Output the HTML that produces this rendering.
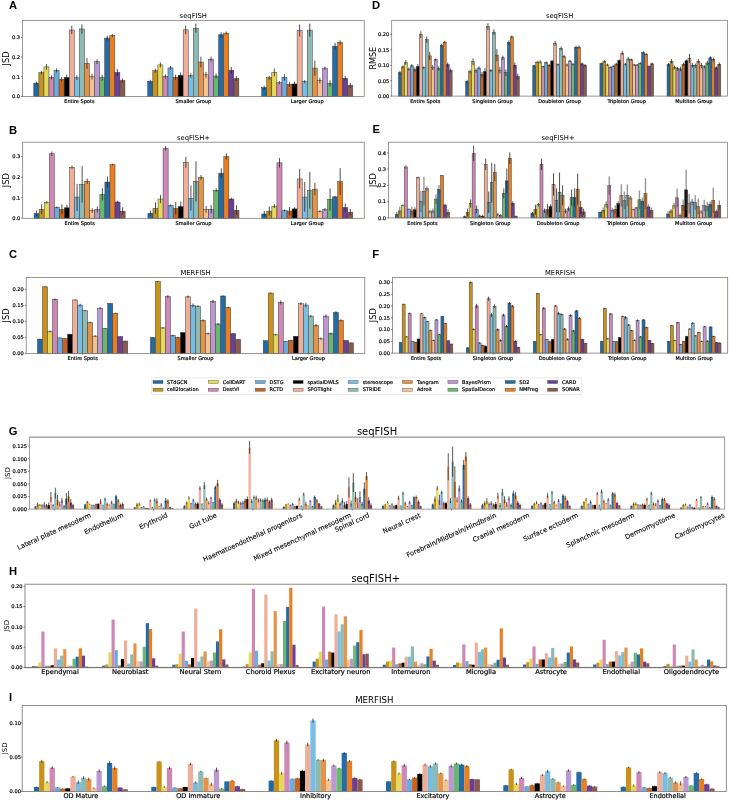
<!DOCTYPE html>
<html><head><meta charset="utf-8"><title>Figure</title>
<style>
html,body{margin:0;padding:0;background:#fff;}
body{width:729px;height:802px;overflow:hidden;}
svg{display:block;font-family:"DejaVu Sans","Liberation Sans",sans-serif;}
svg text{fill:#000;}
svg text.b{stroke:#000;stroke-width:0.18px;}
svg text.c{stroke:#000;stroke-width:0.1px;}
svg rect, svg path{shape-rendering:auto;}
</style></head><body>
<svg width="729" height="802" viewBox="0 0 729 802">
<rect x="0" y="0" width="729" height="802" fill="#ffffff" stroke="none"/>
<g>
<rect x="33.79" y="83.15" width="5.06" height="13.35" fill="#1f6aa5" stroke="#3c3c3c" stroke-width="0.5"/>
<rect x="38.86" y="72.52" width="5.06" height="23.98" fill="#c8921b" stroke="#3c3c3c" stroke-width="0.5"/>
<rect x="43.92" y="66.88" width="5.06" height="29.62" fill="#e4d95b" stroke="#3c3c3c" stroke-width="0.5"/>
<rect x="48.98" y="77.42" width="5.06" height="19.08" fill="#cf87b5" stroke="#3c3c3c" stroke-width="0.5"/>
<rect x="54.05" y="70.49" width="5.06" height="26.01" fill="#69addf" stroke="#3c3c3c" stroke-width="0.5"/>
<rect x="59.11" y="79.2" width="5.06" height="17.3" fill="#c9641e" stroke="#3c3c3c" stroke-width="0.5"/>
<rect x="64.18" y="77.42" width="5.06" height="19.08" fill="#000000" stroke="#3c3c3c" stroke-width="0.5"/>
<rect x="69.24" y="30.02" width="5.06" height="66.48" fill="#efae97" stroke="#3c3c3c" stroke-width="0.5"/>
<rect x="74.3" y="77.74" width="5.06" height="18.76" fill="#78bde3" stroke="#3c3c3c" stroke-width="0.5"/>
<rect x="79.37" y="28.95" width="5.06" height="67.55" fill="#8dbab3" stroke="#3c3c3c" stroke-width="0.5"/>
<rect x="84.43" y="63.4" width="5.06" height="33.1" fill="#e6934a" stroke="#3c3c3c" stroke-width="0.5"/>
<rect x="89.49" y="76.61" width="5.06" height="19.89" fill="#f4c391" stroke="#3c3c3c" stroke-width="0.5"/>
<rect x="94.56" y="61.62" width="5.06" height="34.88" fill="#bb98d2" stroke="#3c3c3c" stroke-width="0.5"/>
<rect x="99.62" y="77.74" width="5.06" height="18.76" fill="#6ab76f" stroke="#3c3c3c" stroke-width="0.5"/>
<rect x="104.69" y="38.1" width="5.06" height="58.4" fill="#256ca6" stroke="#3c3c3c" stroke-width="0.5"/>
<rect x="109.75" y="35.67" width="5.06" height="60.83" fill="#e87f22" stroke="#3c3c3c" stroke-width="0.5"/>
<rect x="114.81" y="72.41" width="5.06" height="24.09" fill="#6a3f98" stroke="#3c3c3c" stroke-width="0.5"/>
<rect x="119.88" y="80.5" width="5.06" height="16" fill="#8a5a4d" stroke="#3c3c3c" stroke-width="0.5"/>
<path d="M36.33 84.73V81.57M41.39 74.3V70.75M46.45 69.84V63.91M51.52 79.4V75.45M56.58 72.46V68.51M61.64 81.37V77.03M66.71 80.19V74.66M71.77 34.17V25.87M76.83 80.11V75.37M81.9 33.7V24.21M86.96 68.93V57.87M92.03 79.48V73.75M97.09 63.99V59.25M102.15 80.7V74.78M107.22 40.57V35.63M112.28 37.25V34.09M117.34 75.76V69.05M122.41 82.67V78.33" stroke="#222" stroke-width="0.8" fill="none" opacity="1"/>
<rect x="147.73" y="81.31" width="5.06" height="15.19" fill="#1f6aa5" stroke="#3c3c3c" stroke-width="0.5"/>
<rect x="152.79" y="70.63" width="5.06" height="25.87" fill="#c8921b" stroke="#3c3c3c" stroke-width="0.5"/>
<rect x="157.85" y="64.9" width="5.06" height="31.6" fill="#e4d95b" stroke="#3c3c3c" stroke-width="0.5"/>
<rect x="162.92" y="76.36" width="5.06" height="20.14" fill="#cf87b5" stroke="#3c3c3c" stroke-width="0.5"/>
<rect x="167.98" y="67.86" width="5.06" height="28.64" fill="#69addf" stroke="#3c3c3c" stroke-width="0.5"/>
<rect x="173.05" y="77.2" width="5.06" height="19.3" fill="#c9641e" stroke="#3c3c3c" stroke-width="0.5"/>
<rect x="178.11" y="75.21" width="5.06" height="21.29" fill="#000000" stroke="#3c3c3c" stroke-width="0.5"/>
<rect x="183.17" y="29.84" width="5.06" height="66.66" fill="#efae97" stroke="#3c3c3c" stroke-width="0.5"/>
<rect x="188.24" y="75.56" width="5.06" height="20.93" fill="#78bde3" stroke="#3c3c3c" stroke-width="0.5"/>
<rect x="193.3" y="28.17" width="5.06" height="68.33" fill="#8dbab3" stroke="#3c3c3c" stroke-width="0.5"/>
<rect x="198.36" y="62.02" width="5.06" height="34.48" fill="#e6934a" stroke="#3c3c3c" stroke-width="0.5"/>
<rect x="203.43" y="74.78" width="5.06" height="21.73" fill="#f4c391" stroke="#3c3c3c" stroke-width="0.5"/>
<rect x="208.49" y="59.17" width="5.06" height="37.33" fill="#bb98d2" stroke="#3c3c3c" stroke-width="0.5"/>
<rect x="213.55" y="76.04" width="5.06" height="20.46" fill="#6ab76f" stroke="#3c3c3c" stroke-width="0.5"/>
<rect x="218.62" y="34.8" width="5.06" height="61.7" fill="#256ca6" stroke="#3c3c3c" stroke-width="0.5"/>
<rect x="223.68" y="33.14" width="5.06" height="63.36" fill="#e87f22" stroke="#3c3c3c" stroke-width="0.5"/>
<rect x="228.75" y="70.23" width="5.06" height="26.27" fill="#6a3f98" stroke="#3c3c3c" stroke-width="0.5"/>
<rect x="233.81" y="78.53" width="5.06" height="17.97" fill="#8a5a4d" stroke="#3c3c3c" stroke-width="0.5"/>
<path d="M150.26 82.89V79.73M155.32 72.6V68.65M160.39 67.37V62.43M165.45 78.33V74.38M170.51 69.64V66.09M175.58 79.67V74.74M180.64 77.97V72.44M185.7 34.19V25.5M190.77 77.74V73.39M195.83 32.71V23.62M200.9 67.35V56.68M205.96 77.64V71.91M211.02 61.74V56.6M216.09 78.61V73.47M221.15 37.27V32.33M226.21 34.72V31.56M231.28 73.59V66.88M236.34 81V76.06" stroke="#222" stroke-width="0.8" fill="none" opacity="1"/>
<rect x="261.66" y="87.61" width="5.06" height="8.89" fill="#1f6aa5" stroke="#3c3c3c" stroke-width="0.5"/>
<rect x="266.72" y="77.74" width="5.06" height="18.76" fill="#c8921b" stroke="#3c3c3c" stroke-width="0.5"/>
<rect x="271.79" y="72.41" width="5.06" height="24.09" fill="#e4d95b" stroke="#3c3c3c" stroke-width="0.5"/>
<rect x="276.85" y="82.67" width="5.06" height="13.83" fill="#cf87b5" stroke="#3c3c3c" stroke-width="0.5"/>
<rect x="281.91" y="77.34" width="5.06" height="19.16" fill="#69addf" stroke="#3c3c3c" stroke-width="0.5"/>
<rect x="286.98" y="84.25" width="5.06" height="12.24" fill="#c9641e" stroke="#3c3c3c" stroke-width="0.5"/>
<rect x="292.04" y="83.96" width="5.06" height="12.54" fill="#000000" stroke="#3c3c3c" stroke-width="0.5"/>
<rect x="297.11" y="30.53" width="5.06" height="65.97" fill="#efae97" stroke="#3c3c3c" stroke-width="0.5"/>
<rect x="302.17" y="81.69" width="5.06" height="14.81" fill="#78bde3" stroke="#3c3c3c" stroke-width="0.5"/>
<rect x="307.23" y="30.14" width="5.06" height="66.36" fill="#8dbab3" stroke="#3c3c3c" stroke-width="0.5"/>
<rect x="312.3" y="68.12" width="5.06" height="28.38" fill="#e6934a" stroke="#3c3c3c" stroke-width="0.5"/>
<rect x="317.36" y="80.5" width="5.06" height="16" fill="#f4c391" stroke="#3c3c3c" stroke-width="0.5"/>
<rect x="322.42" y="68.12" width="5.06" height="28.38" fill="#bb98d2" stroke="#3c3c3c" stroke-width="0.5"/>
<rect x="327.49" y="83.31" width="5.06" height="13.19" fill="#6ab76f" stroke="#3c3c3c" stroke-width="0.5"/>
<rect x="332.55" y="46.18" width="5.06" height="50.32" fill="#256ca6" stroke="#3c3c3c" stroke-width="0.5"/>
<rect x="337.62" y="42.38" width="5.06" height="54.12" fill="#e87f22" stroke="#3c3c3c" stroke-width="0.5"/>
<rect x="342.68" y="78.33" width="5.06" height="18.17" fill="#6a3f98" stroke="#3c3c3c" stroke-width="0.5"/>
<rect x="347.74" y="85.44" width="5.06" height="11.06" fill="#8a5a4d" stroke="#3c3c3c" stroke-width="0.5"/>
<path d="M264.19 89.59V85.64M269.26 79.52V75.96M274.32 76.36V68.45M279.38 84.25V81.09M284.45 80.5V74.18M289.51 86.72V81.79M294.57 86.43V81.49M299.64 36.46V24.61M304.7 83.27V80.11M309.77 36.66V23.62M314.83 75.62V60.61M319.89 83.37V77.64M324.96 69.7V66.54M330.02 86.27V80.34M335.08 49.53V42.82M340.15 44.56V40.21M345.21 80.8V75.86M350.27 87.91V82.97" stroke="#222" stroke-width="0.8" fill="none" opacity="1"/>
<rect x="22.4" y="20.4" width="341.8" height="76.1" fill="none" stroke="#7d746e" stroke-width="0.75"/>
<path d="M20.9 96.5H22.4" stroke="#333" stroke-width="0.6"/>
<text class="b" x="20" y="98.34" font-size="5.1" text-anchor="end">0.0</text>
<path d="M20.9 76.75H22.4" stroke="#333" stroke-width="0.6"/>
<text class="b" x="20" y="78.59" font-size="5.1" text-anchor="end">0.1</text>
<path d="M20.9 57H22.4" stroke="#333" stroke-width="0.6"/>
<text class="b" x="20" y="58.84" font-size="5.1" text-anchor="end">0.2</text>
<path d="M20.9 37.25H22.4" stroke="#333" stroke-width="0.6"/>
<text class="b" x="20" y="39.09" font-size="5.1" text-anchor="end">0.3</text>
<text transform="translate(9 58.45) rotate(-90)" font-size="8.3" text-anchor="middle">JSD</text>
<text x="193.3" y="17.6" font-size="6.8" text-anchor="middle">seqFISH</text>
<path d="M79.37 96.5V97.8" stroke="#333" stroke-width="0.6"/>
<text class="b" x="79.37" y="103.1" font-size="5" text-anchor="middle">Entire Spots</text>
<path d="M193.3 96.5V97.8" stroke="#333" stroke-width="0.6"/>
<text class="b" x="193.3" y="103.1" font-size="5" text-anchor="middle">Smaller Group</text>
<path d="M307.23 96.5V97.8" stroke="#333" stroke-width="0.6"/>
<text class="b" x="307.23" y="103.1" font-size="5" text-anchor="middle">Larger Group</text>
<text x="9" y="9.3" font-size="11.2" font-weight="bold" font-family="Liberation Sans, Arial, sans-serif">A</text>
</g>
<g>
<rect x="34.08" y="213.56" width="5.06" height="4.74" fill="#1f6aa5" stroke="#3c3c3c" stroke-width="0.5"/>
<rect x="39.14" y="209.44" width="5.06" height="8.86" fill="#c8921b" stroke="#3c3c3c" stroke-width="0.5"/>
<rect x="44.2" y="202.34" width="5.06" height="15.96" fill="#e4d95b" stroke="#3c3c3c" stroke-width="0.5"/>
<rect x="49.26" y="153.76" width="5.06" height="64.54" fill="#cf87b5" stroke="#3c3c3c" stroke-width="0.5"/>
<rect x="54.32" y="207.26" width="5.06" height="11.04" fill="#69addf" stroke="#3c3c3c" stroke-width="0.5"/>
<rect x="59.38" y="209.44" width="5.06" height="8.86" fill="#c9641e" stroke="#3c3c3c" stroke-width="0.5"/>
<rect x="64.44" y="207.79" width="5.06" height="10.51" fill="#000000" stroke="#3c3c3c" stroke-width="0.5"/>
<rect x="69.5" y="167.25" width="5.06" height="51.05" fill="#efae97" stroke="#3c3c3c" stroke-width="0.5"/>
<rect x="74.56" y="197.08" width="5.06" height="21.22" fill="#78bde3" stroke="#3c3c3c" stroke-width="0.5"/>
<rect x="79.62" y="184.52" width="5.06" height="33.78" fill="#8dbab3" stroke="#3c3c3c" stroke-width="0.5"/>
<rect x="84.68" y="181.22" width="5.06" height="37.08" fill="#e6934a" stroke="#3c3c3c" stroke-width="0.5"/>
<rect x="89.74" y="210.55" width="5.06" height="7.75" fill="#f4c391" stroke="#3c3c3c" stroke-width="0.5"/>
<rect x="94.79" y="209.44" width="5.06" height="8.86" fill="#bb98d2" stroke="#3c3c3c" stroke-width="0.5"/>
<rect x="99.85" y="194.4" width="5.06" height="23.9" fill="#6ab76f" stroke="#3c3c3c" stroke-width="0.5"/>
<rect x="104.91" y="182.04" width="5.06" height="36.26" fill="#256ca6" stroke="#3c3c3c" stroke-width="0.5"/>
<rect x="109.97" y="164.62" width="5.06" height="53.68" fill="#e87f22" stroke="#3c3c3c" stroke-width="0.5"/>
<rect x="115.03" y="202.03" width="5.06" height="16.27" fill="#6a3f98" stroke="#3c3c3c" stroke-width="0.5"/>
<rect x="120.09" y="211.21" width="5.06" height="7.09" fill="#8a5a4d" stroke="#3c3c3c" stroke-width="0.5"/>
<path d="M36.61 215.83V210.55M41.67 214.18V204.29M46.73 203.57V201.1M51.79 156.03V151.49M56.85 208.08V206.43M61.91 214.18V204.29M66.97 211.3V204.81M72.03 168.7V165.81M77.09 210.88V183.9M82.15 202.64V166.18M87.21 183.9V178.54M92.26 212.82V208.29M97.32 212.53V206.35M102.38 200.58V188.22M107.44 187.61V176.48M112.5 165.44V163.79M117.56 203.26V200.79M122.62 214.67V207.26" stroke="#222" stroke-width="0.8" fill="none" opacity="1"/>
<rect x="147.92" y="213.36" width="5.06" height="4.94" fill="#1f6aa5" stroke="#3c3c3c" stroke-width="0.5"/>
<rect x="152.98" y="208.41" width="5.06" height="9.89" fill="#c8921b" stroke="#3c3c3c" stroke-width="0.5"/>
<rect x="158.04" y="199.04" width="5.06" height="19.26" fill="#e4d95b" stroke="#3c3c3c" stroke-width="0.5"/>
<rect x="163.09" y="148.32" width="5.06" height="69.98" fill="#cf87b5" stroke="#3c3c3c" stroke-width="0.5"/>
<rect x="168.15" y="205.32" width="5.06" height="12.98" fill="#69addf" stroke="#3c3c3c" stroke-width="0.5"/>
<rect x="173.21" y="208.41" width="5.06" height="9.89" fill="#c9641e" stroke="#3c3c3c" stroke-width="0.5"/>
<rect x="178.27" y="206.43" width="5.06" height="11.87" fill="#000000" stroke="#3c3c3c" stroke-width="0.5"/>
<rect x="183.33" y="162.31" width="5.06" height="55.99" fill="#efae97" stroke="#3c3c3c" stroke-width="0.5"/>
<rect x="188.39" y="198.22" width="5.06" height="20.09" fill="#78bde3" stroke="#3c3c3c" stroke-width="0.5"/>
<rect x="193.45" y="181.22" width="5.06" height="37.08" fill="#8dbab3" stroke="#3c3c3c" stroke-width="0.5"/>
<rect x="198.51" y="177.31" width="5.06" height="40.99" fill="#e6934a" stroke="#3c3c3c" stroke-width="0.5"/>
<rect x="203.57" y="209.44" width="5.06" height="8.86" fill="#f4c391" stroke="#3c3c3c" stroke-width="0.5"/>
<rect x="208.63" y="209.24" width="5.06" height="9.06" fill="#bb98d2" stroke="#3c3c3c" stroke-width="0.5"/>
<rect x="213.69" y="190.28" width="5.06" height="28.02" fill="#6ab76f" stroke="#3c3c3c" stroke-width="0.5"/>
<rect x="218.75" y="173.19" width="5.06" height="45.11" fill="#256ca6" stroke="#3c3c3c" stroke-width="0.5"/>
<rect x="223.81" y="156.54" width="5.06" height="61.76" fill="#e87f22" stroke="#3c3c3c" stroke-width="0.5"/>
<rect x="228.86" y="199.04" width="5.06" height="19.26" fill="#6a3f98" stroke="#3c3c3c" stroke-width="0.5"/>
<rect x="233.92" y="210.27" width="5.06" height="8.03" fill="#8a5a4d" stroke="#3c3c3c" stroke-width="0.5"/>
<path d="M150.45 215.5V210.55M155.51 213.85V202.34M160.56 203.16V194.92M165.62 150.59V146.06M170.68 206.35V204.29M175.74 214.67V202.03M180.8 211.38V201.51M185.86 167.67V156.95M190.92 210.55V185.55M195.98 201.51V161.24M201.04 179.57V175.04M206.1 212.74V206.15M211.16 213.36V205.12M216.22 192.14V188.43M221.28 178.13V168.24M226.34 159.63V153.45M231.39 200.28V197.8M236.45 214.67V205.32" stroke="#222" stroke-width="0.8" fill="none" opacity="1"/>
<rect x="261.75" y="214.02" width="5.06" height="4.28" fill="#1f6aa5" stroke="#3c3c3c" stroke-width="0.5"/>
<rect x="266.81" y="211.09" width="5.06" height="7.21" fill="#c8921b" stroke="#3c3c3c" stroke-width="0.5"/>
<rect x="271.87" y="206.15" width="5.06" height="12.15" fill="#e4d95b" stroke="#3c3c3c" stroke-width="0.5"/>
<rect x="276.93" y="162.8" width="5.06" height="55.5" fill="#cf87b5" stroke="#3c3c3c" stroke-width="0.5"/>
<rect x="281.99" y="210.55" width="5.06" height="7.75" fill="#69addf" stroke="#3c3c3c" stroke-width="0.5"/>
<rect x="287.05" y="211.09" width="5.06" height="7.21" fill="#c9641e" stroke="#3c3c3c" stroke-width="0.5"/>
<rect x="292.11" y="208.91" width="5.06" height="9.39" fill="#000000" stroke="#3c3c3c" stroke-width="0.5"/>
<rect x="297.16" y="178.95" width="5.06" height="39.35" fill="#efae97" stroke="#3c3c3c" stroke-width="0.5"/>
<rect x="302.22" y="197.08" width="5.06" height="21.22" fill="#78bde3" stroke="#3c3c3c" stroke-width="0.5"/>
<rect x="307.28" y="190.28" width="5.06" height="28.02" fill="#8dbab3" stroke="#3c3c3c" stroke-width="0.5"/>
<rect x="312.34" y="189.15" width="5.06" height="29.15" fill="#e6934a" stroke="#3c3c3c" stroke-width="0.5"/>
<rect x="317.4" y="211.38" width="5.06" height="6.92" fill="#f4c391" stroke="#3c3c3c" stroke-width="0.5"/>
<rect x="322.46" y="209.57" width="5.06" height="8.73" fill="#bb98d2" stroke="#3c3c3c" stroke-width="0.5"/>
<rect x="327.52" y="199.35" width="5.06" height="18.95" fill="#6ab76f" stroke="#3c3c3c" stroke-width="0.5"/>
<rect x="332.58" y="196.88" width="5.06" height="21.42" fill="#256ca6" stroke="#3c3c3c" stroke-width="0.5"/>
<rect x="337.64" y="181.74" width="5.06" height="36.56" fill="#e87f22" stroke="#3c3c3c" stroke-width="0.5"/>
<rect x="342.7" y="207.59" width="5.06" height="10.71" fill="#6a3f98" stroke="#3c3c3c" stroke-width="0.5"/>
<rect x="347.76" y="212.2" width="5.06" height="6.1" fill="#8a5a4d" stroke="#3c3c3c" stroke-width="0.5"/>
<path d="M264.28 216.32V211.09M269.34 215.5V206.43M274.4 208V204.29M279.46 167.54V158.07M284.52 211.58V209.52M289.58 215.5V206.97M294.64 210.55V207.26M299.69 188.33V168.86M304.75 211.71V182.04M309.81 208.62V171.87M314.87 195.33V182.97M319.93 212.61V210.14M324.99 211.01V208.12M330.05 210.55V188.33M335.11 197.91V195.85M340.17 194.92V168.08M345.23 211.71V203.47M350.29 215.5V208.91" stroke="#222" stroke-width="0.8" fill="none" opacity="1"/>
<rect x="22.7" y="142.2" width="341.5" height="76.1" fill="none" stroke="#7d746e" stroke-width="0.75"/>
<path d="M21.2 218.3H22.7" stroke="#333" stroke-width="0.6"/>
<text class="b" x="20.3" y="220.14" font-size="5.1" text-anchor="end">0.0</text>
<path d="M21.2 197.7H22.7" stroke="#333" stroke-width="0.6"/>
<text class="b" x="20.3" y="199.54" font-size="5.1" text-anchor="end">0.1</text>
<path d="M21.2 177.1H22.7" stroke="#333" stroke-width="0.6"/>
<text class="b" x="20.3" y="178.94" font-size="5.1" text-anchor="end">0.2</text>
<path d="M21.2 156.5H22.7" stroke="#333" stroke-width="0.6"/>
<text class="b" x="20.3" y="158.34" font-size="5.1" text-anchor="end">0.3</text>
<text transform="translate(9 180.25) rotate(-90)" font-size="8.3" text-anchor="middle">JSD</text>
<text x="193.45" y="139.6" font-size="6.8" text-anchor="middle">seqFISH+</text>
<path d="M79.62 218.3V219.6" stroke="#333" stroke-width="0.6"/>
<text class="b" x="79.62" y="224.9" font-size="5" text-anchor="middle">Entire Spots</text>
<path d="M193.45 218.3V219.6" stroke="#333" stroke-width="0.6"/>
<text class="b" x="193.45" y="224.9" font-size="5" text-anchor="middle">Smaller Group</text>
<path d="M307.28 218.3V219.6" stroke="#333" stroke-width="0.6"/>
<text class="b" x="307.28" y="224.9" font-size="5" text-anchor="middle">Larger Group</text>
<text x="9" y="133.7" font-size="11.2" font-weight="bold" font-family="Liberation Sans, Arial, sans-serif">B</text>
</g>
<g>
<rect x="37.49" y="339.1" width="5.02" height="14.3" fill="#1f6aa5" stroke="#3c3c3c" stroke-width="0.5"/>
<rect x="42.5" y="286.78" width="5.02" height="66.62" fill="#c8921b" stroke="#3c3c3c" stroke-width="0.5"/>
<rect x="47.52" y="331.35" width="5.02" height="22.05" fill="#e4d95b" stroke="#3c3c3c" stroke-width="0.5"/>
<rect x="52.54" y="299.32" width="5.02" height="54.08" fill="#cf87b5" stroke="#3c3c3c" stroke-width="0.5"/>
<rect x="57.55" y="337.94" width="5.02" height="15.46" fill="#69addf" stroke="#3c3c3c" stroke-width="0.5"/>
<rect x="62.57" y="338.58" width="5.02" height="14.82" fill="#c9641e" stroke="#3c3c3c" stroke-width="0.5"/>
<rect x="67.58" y="334.2" width="5.02" height="19.2" fill="#000000" stroke="#3c3c3c" stroke-width="0.5"/>
<rect x="72.6" y="299.96" width="5.02" height="53.44" fill="#efae97" stroke="#3c3c3c" stroke-width="0.5"/>
<rect x="77.62" y="305.08" width="5.02" height="48.32" fill="#78bde3" stroke="#3c3c3c" stroke-width="0.5"/>
<rect x="82.63" y="310.62" width="5.02" height="42.78" fill="#8dbab3" stroke="#3c3c3c" stroke-width="0.5"/>
<rect x="87.65" y="322.36" width="5.02" height="31.04" fill="#e6934a" stroke="#3c3c3c" stroke-width="0.5"/>
<rect x="92.67" y="336.12" width="5.02" height="17.28" fill="#f4c391" stroke="#3c3c3c" stroke-width="0.5"/>
<rect x="97.68" y="308.15" width="5.02" height="45.25" fill="#bb98d2" stroke="#3c3c3c" stroke-width="0.5"/>
<rect x="102.7" y="328.44" width="5.02" height="24.96" fill="#6ab76f" stroke="#3c3c3c" stroke-width="0.5"/>
<rect x="107.71" y="303.38" width="5.02" height="50.02" fill="#256ca6" stroke="#3c3c3c" stroke-width="0.5"/>
<rect x="112.73" y="313.27" width="5.02" height="40.13" fill="#e87f22" stroke="#3c3c3c" stroke-width="0.5"/>
<rect x="117.75" y="336.63" width="5.02" height="16.77" fill="#6a3f98" stroke="#3c3c3c" stroke-width="0.5"/>
<rect x="122.76" y="341.05" width="5.02" height="12.35" fill="#8a5a4d" stroke="#3c3c3c" stroke-width="0.5"/>
<path d="M39.99 339.42V338.78M45.01 287.26V286.3M50.03 332.31V330.39M55.04 300.28V298.36M60.06 338.42V337.46M65.08 339.06V338.1M70.09 334.52V333.88M75.11 300.6V299.32M80.13 306.36V303.8M85.14 311.26V309.98M90.16 323V321.72M95.17 337.08V335.16M100.19 309.11V307.19M105.21 329.08V327.8M110.22 303.7V303.06M115.24 313.91V312.63M120.26 336.95V336.31M125.27 341.37V340.73" stroke="#222" stroke-width="0.8" fill="none" opacity="1"/>
<rect x="150.35" y="337.43" width="5.02" height="15.97" fill="#1f6aa5" stroke="#3c3c3c" stroke-width="0.5"/>
<rect x="155.37" y="281.5" width="5.02" height="71.9" fill="#c8921b" stroke="#3c3c3c" stroke-width="0.5"/>
<rect x="160.39" y="327.9" width="5.02" height="25.5" fill="#e4d95b" stroke="#3c3c3c" stroke-width="0.5"/>
<rect x="165.4" y="296.63" width="5.02" height="56.77" fill="#cf87b5" stroke="#3c3c3c" stroke-width="0.5"/>
<rect x="170.42" y="335.48" width="5.02" height="17.92" fill="#69addf" stroke="#3c3c3c" stroke-width="0.5"/>
<rect x="175.43" y="337.43" width="5.02" height="15.97" fill="#c9641e" stroke="#3c3c3c" stroke-width="0.5"/>
<rect x="180.45" y="332.5" width="5.02" height="20.9" fill="#000000" stroke="#3c3c3c" stroke-width="0.5"/>
<rect x="185.47" y="296.79" width="5.02" height="56.61" fill="#efae97" stroke="#3c3c3c" stroke-width="0.5"/>
<rect x="190.48" y="305.4" width="5.02" height="48" fill="#78bde3" stroke="#3c3c3c" stroke-width="0.5"/>
<rect x="195.5" y="306.17" width="5.02" height="47.23" fill="#8dbab3" stroke="#3c3c3c" stroke-width="0.5"/>
<rect x="200.52" y="320.5" width="5.02" height="32.9" fill="#e6934a" stroke="#3c3c3c" stroke-width="0.5"/>
<rect x="205.53" y="333.66" width="5.02" height="19.74" fill="#f4c391" stroke="#3c3c3c" stroke-width="0.5"/>
<rect x="210.55" y="301.24" width="5.02" height="52.16" fill="#bb98d2" stroke="#3c3c3c" stroke-width="0.5"/>
<rect x="215.57" y="323.96" width="5.02" height="29.44" fill="#6ab76f" stroke="#3c3c3c" stroke-width="0.5"/>
<rect x="220.58" y="295.99" width="5.02" height="57.41" fill="#256ca6" stroke="#3c3c3c" stroke-width="0.5"/>
<rect x="225.6" y="307.51" width="5.02" height="45.89" fill="#e87f22" stroke="#3c3c3c" stroke-width="0.5"/>
<rect x="230.61" y="333.66" width="5.02" height="19.74" fill="#6a3f98" stroke="#3c3c3c" stroke-width="0.5"/>
<rect x="235.63" y="339.42" width="5.02" height="13.98" fill="#8a5a4d" stroke="#3c3c3c" stroke-width="0.5"/>
<path d="M152.86 337.75V337.11M157.88 281.98V281.02M162.89 328.86V326.94M167.91 298.23V295.03M172.93 336.44V334.52M177.94 337.91V336.95M182.96 332.82V332.18M187.98 298.07V295.51M192.99 307.32V303.48M198.01 307.13V305.21M203.02 321.78V319.22M208.04 334.94V332.38M213.06 302.84V299.64M218.07 324.92V323M223.09 296.47V295.51M228.11 308.47V306.55M233.12 333.98V333.34M238.14 339.74V339.1" stroke="#222" stroke-width="0.8" fill="none" opacity="1"/>
<rect x="263.22" y="340.73" width="5.02" height="12.67" fill="#1f6aa5" stroke="#3c3c3c" stroke-width="0.5"/>
<rect x="268.24" y="293.02" width="5.02" height="60.38" fill="#c8921b" stroke="#3c3c3c" stroke-width="0.5"/>
<rect x="273.25" y="334.65" width="5.02" height="18.75" fill="#e4d95b" stroke="#3c3c3c" stroke-width="0.5"/>
<rect x="278.27" y="302.39" width="5.02" height="51.01" fill="#cf87b5" stroke="#3c3c3c" stroke-width="0.5"/>
<rect x="283.29" y="341.56" width="5.02" height="11.84" fill="#69addf" stroke="#3c3c3c" stroke-width="0.5"/>
<rect x="288.3" y="340.25" width="5.02" height="13.15" fill="#c9641e" stroke="#3c3c3c" stroke-width="0.5"/>
<rect x="293.32" y="336.28" width="5.02" height="17.12" fill="#000000" stroke="#3c3c3c" stroke-width="0.5"/>
<rect x="298.33" y="303.7" width="5.02" height="49.7" fill="#efae97" stroke="#3c3c3c" stroke-width="0.5"/>
<rect x="303.35" y="305.02" width="5.02" height="48.38" fill="#78bde3" stroke="#3c3c3c" stroke-width="0.5"/>
<rect x="308.37" y="316.06" width="5.02" height="37.34" fill="#8dbab3" stroke="#3c3c3c" stroke-width="0.5"/>
<rect x="313.38" y="325.43" width="5.02" height="27.97" fill="#e6934a" stroke="#3c3c3c" stroke-width="0.5"/>
<rect x="318.4" y="338.74" width="5.02" height="14.66" fill="#f4c391" stroke="#3c3c3c" stroke-width="0.5"/>
<rect x="323.42" y="316.06" width="5.02" height="37.34" fill="#bb98d2" stroke="#3c3c3c" stroke-width="0.5"/>
<rect x="328.43" y="333.66" width="5.02" height="19.74" fill="#6ab76f" stroke="#3c3c3c" stroke-width="0.5"/>
<rect x="333.45" y="312.44" width="5.02" height="40.96" fill="#256ca6" stroke="#3c3c3c" stroke-width="0.5"/>
<rect x="338.46" y="320.5" width="5.02" height="32.9" fill="#e87f22" stroke="#3c3c3c" stroke-width="0.5"/>
<rect x="343.48" y="340.41" width="5.02" height="12.99" fill="#6a3f98" stroke="#3c3c3c" stroke-width="0.5"/>
<rect x="348.5" y="342.87" width="5.02" height="10.53" fill="#8a5a4d" stroke="#3c3c3c" stroke-width="0.5"/>
<path d="M265.73 341.05V340.41M270.74 293.5V292.54M275.76 335.61V333.69M280.78 304.31V300.47M285.79 342.04V341.08M290.81 340.73V339.77M295.83 336.6V335.96M300.84 304.98V302.42M305.86 307.26V302.78M310.87 317.02V315.1M315.89 326.71V324.15M320.91 340.02V337.46M325.92 317.66V314.46M330.94 334.94V332.38M335.96 313.72V311.16M340.97 321.78V319.22M345.99 340.73V340.09M351.01 343.19V342.55" stroke="#222" stroke-width="0.8" fill="none" opacity="1"/>
<rect x="26.2" y="277.4" width="338.6" height="76" fill="none" stroke="#7d746e" stroke-width="0.75"/>
<path d="M24.7 353.4H26.2" stroke="#333" stroke-width="0.6"/>
<text class="b" x="23.8" y="355.24" font-size="5.1" text-anchor="end">0.00</text>
<path d="M24.7 337.4H26.2" stroke="#333" stroke-width="0.6"/>
<text class="b" x="23.8" y="339.24" font-size="5.1" text-anchor="end">0.05</text>
<path d="M24.7 321.4H26.2" stroke="#333" stroke-width="0.6"/>
<text class="b" x="23.8" y="323.24" font-size="5.1" text-anchor="end">0.10</text>
<path d="M24.7 305.4H26.2" stroke="#333" stroke-width="0.6"/>
<text class="b" x="23.8" y="307.24" font-size="5.1" text-anchor="end">0.15</text>
<path d="M24.7 289.4H26.2" stroke="#333" stroke-width="0.6"/>
<text class="b" x="23.8" y="291.24" font-size="5.1" text-anchor="end">0.20</text>
<text transform="translate(9 315.4) rotate(-90)" font-size="8.3" text-anchor="middle">JSD</text>
<text x="195.5" y="274.8" font-size="6.8" text-anchor="middle">MERFISH</text>
<path d="M82.63 353.4V354.7" stroke="#333" stroke-width="0.6"/>
<text class="b" x="82.63" y="360" font-size="5" text-anchor="middle">Entire Spots</text>
<path d="M195.5 353.4V354.7" stroke="#333" stroke-width="0.6"/>
<text class="b" x="195.5" y="360" font-size="5" text-anchor="middle">Smaller Group</text>
<path d="M308.37 353.4V354.7" stroke="#333" stroke-width="0.6"/>
<text class="b" x="308.37" y="360" font-size="5" text-anchor="middle">Larger Group</text>
<text x="9" y="258.3" font-size="11.2" font-weight="bold" font-family="Liberation Sans, Arial, sans-serif">C</text>
</g>
<g>
<rect x="398.42" y="72.73" width="2.98" height="23.37" fill="#1f6aa5" stroke="#3c3c3c" stroke-width="0.5"/>
<rect x="401.4" y="66.89" width="2.98" height="29.21" fill="#c8921b" stroke="#3c3c3c" stroke-width="0.5"/>
<rect x="404.39" y="62.49" width="2.98" height="33.61" fill="#e4d95b" stroke="#3c3c3c" stroke-width="0.5"/>
<rect x="407.37" y="69.1" width="2.98" height="27" fill="#cf87b5" stroke="#3c3c3c" stroke-width="0.5"/>
<rect x="410.36" y="65.78" width="2.98" height="30.32" fill="#69addf" stroke="#3c3c3c" stroke-width="0.5"/>
<rect x="413.34" y="69.66" width="2.98" height="26.44" fill="#c9641e" stroke="#3c3c3c" stroke-width="0.5"/>
<rect x="416.33" y="66.33" width="2.98" height="29.77" fill="#000000" stroke="#3c3c3c" stroke-width="0.5"/>
<rect x="419.31" y="34.6" width="2.98" height="61.5" fill="#efae97" stroke="#3c3c3c" stroke-width="0.5"/>
<rect x="422.3" y="67.66" width="2.98" height="28.44" fill="#78bde3" stroke="#3c3c3c" stroke-width="0.5"/>
<rect x="425.28" y="39.67" width="2.98" height="56.43" fill="#8dbab3" stroke="#3c3c3c" stroke-width="0.5"/>
<rect x="428.26" y="55.88" width="2.98" height="40.22" fill="#e6934a" stroke="#3c3c3c" stroke-width="0.5"/>
<rect x="431.25" y="67.66" width="2.98" height="28.44" fill="#f4c391" stroke="#3c3c3c" stroke-width="0.5"/>
<rect x="434.23" y="59.72" width="2.98" height="36.38" fill="#bb98d2" stroke="#3c3c3c" stroke-width="0.5"/>
<rect x="437.22" y="68.55" width="2.98" height="27.55" fill="#6ab76f" stroke="#3c3c3c" stroke-width="0.5"/>
<rect x="440.2" y="45.39" width="2.98" height="50.71" fill="#256ca6" stroke="#3c3c3c" stroke-width="0.5"/>
<rect x="443.19" y="42.1" width="2.98" height="54" fill="#e87f22" stroke="#3c3c3c" stroke-width="0.5"/>
<rect x="446.17" y="64.67" width="2.98" height="31.43" fill="#6a3f98" stroke="#3c3c3c" stroke-width="0.5"/>
<rect x="449.16" y="70.52" width="2.98" height="25.58" fill="#8a5a4d" stroke="#3c3c3c" stroke-width="0.5"/>
<path d="M399.91 74.57V70.88M402.89 68.42V65.35M405.88 64.95V60.03M408.86 70.64V67.56M411.85 67.32V64.24M414.83 71.81V67.5M417.82 68.49V64.18M420.8 37.98V31.22M423.79 68.89V66.43M426.77 42.75V36.6M429.76 60.03V51.73M432.74 70.12V65.2M435.73 60.95V58.49M438.71 70.7V66.4M441.7 46.93V43.86M444.68 43.33V40.87M447.67 66.83V62.52M450.65 72.36V68.67" stroke="#222" stroke-width="0.8" fill="none" opacity="1"/>
<rect x="465.58" y="81.56" width="2.98" height="14.54" fill="#1f6aa5" stroke="#3c3c3c" stroke-width="0.5"/>
<rect x="468.56" y="71.62" width="2.98" height="24.48" fill="#c8921b" stroke="#3c3c3c" stroke-width="0.5"/>
<rect x="471.55" y="61.72" width="2.98" height="34.38" fill="#e4d95b" stroke="#3c3c3c" stroke-width="0.5"/>
<rect x="474.53" y="70.52" width="2.98" height="25.58" fill="#cf87b5" stroke="#3c3c3c" stroke-width="0.5"/>
<rect x="477.52" y="67.99" width="2.98" height="28.11" fill="#69addf" stroke="#3c3c3c" stroke-width="0.5"/>
<rect x="480.5" y="74.57" width="2.98" height="21.53" fill="#c9641e" stroke="#3c3c3c" stroke-width="0.5"/>
<rect x="483.49" y="71.5" width="2.98" height="24.6" fill="#000000" stroke="#3c3c3c" stroke-width="0.5"/>
<rect x="486.47" y="26.67" width="2.98" height="69.43" fill="#efae97" stroke="#3c3c3c" stroke-width="0.5"/>
<rect x="489.46" y="70.52" width="2.98" height="25.58" fill="#78bde3" stroke="#3c3c3c" stroke-width="0.5"/>
<rect x="492.44" y="32.14" width="2.98" height="63.96" fill="#8dbab3" stroke="#3c3c3c" stroke-width="0.5"/>
<rect x="495.42" y="55.11" width="2.98" height="40.99" fill="#e6934a" stroke="#3c3c3c" stroke-width="0.5"/>
<rect x="498.41" y="70.21" width="2.98" height="25.89" fill="#f4c391" stroke="#3c3c3c" stroke-width="0.5"/>
<rect x="501.39" y="57.75" width="2.98" height="38.35" fill="#bb98d2" stroke="#3c3c3c" stroke-width="0.5"/>
<rect x="504.38" y="72.73" width="2.98" height="23.37" fill="#6ab76f" stroke="#3c3c3c" stroke-width="0.5"/>
<rect x="507.36" y="42.66" width="2.98" height="53.44" fill="#256ca6" stroke="#3c3c3c" stroke-width="0.5"/>
<rect x="510.35" y="36.81" width="2.98" height="59.29" fill="#e87f22" stroke="#3c3c3c" stroke-width="0.5"/>
<rect x="513.33" y="65.23" width="2.98" height="30.87" fill="#6a3f98" stroke="#3c3c3c" stroke-width="0.5"/>
<rect x="516.32" y="76.48" width="2.98" height="19.62" fill="#8a5a4d" stroke="#3c3c3c" stroke-width="0.5"/>
<path d="M467.07 83.4V79.71M470.05 73.47V69.78M473.04 65.1V58.34M476.02 72.67V68.36M479.01 69.53V66.46M481.99 77.34V71.81M484.98 75.04V67.96M487.96 30.05V23.28M490.95 72.05V68.98M493.93 34.91V29.37M496.92 61.26V48.96M499.9 73.59V66.83M502.89 59.91V55.6M505.87 76.11V69.35M508.86 44.81V40.5M511.84 38.2V35.43M514.83 67.99V62.46M517.81 79.25V73.71" stroke="#222" stroke-width="0.8" fill="none" opacity="1"/>
<rect x="532.74" y="65.78" width="2.98" height="30.32" fill="#1f6aa5" stroke="#3c3c3c" stroke-width="0.5"/>
<rect x="535.72" y="62.15" width="2.98" height="33.95" fill="#c8921b" stroke="#3c3c3c" stroke-width="0.5"/>
<rect x="538.71" y="61.94" width="2.98" height="34.16" fill="#e4d95b" stroke="#3c3c3c" stroke-width="0.5"/>
<rect x="541.69" y="66.67" width="2.98" height="29.43" fill="#cf87b5" stroke="#3c3c3c" stroke-width="0.5"/>
<rect x="544.68" y="62.71" width="2.98" height="33.39" fill="#69addf" stroke="#3c3c3c" stroke-width="0.5"/>
<rect x="547.66" y="65.23" width="2.98" height="30.87" fill="#c9641e" stroke="#3c3c3c" stroke-width="0.5"/>
<rect x="550.65" y="61.04" width="2.98" height="35.05" fill="#000000" stroke="#3c3c3c" stroke-width="0.5"/>
<rect x="553.63" y="43.43" width="2.98" height="52.67" fill="#efae97" stroke="#3c3c3c" stroke-width="0.5"/>
<rect x="556.62" y="64.67" width="2.98" height="31.43" fill="#78bde3" stroke="#3c3c3c" stroke-width="0.5"/>
<rect x="559.6" y="48.38" width="2.98" height="47.72" fill="#8dbab3" stroke="#3c3c3c" stroke-width="0.5"/>
<rect x="562.58" y="56.43" width="2.98" height="39.67" fill="#e6934a" stroke="#3c3c3c" stroke-width="0.5"/>
<rect x="565.57" y="64.92" width="2.98" height="31.18" fill="#f4c391" stroke="#3c3c3c" stroke-width="0.5"/>
<rect x="568.55" y="61.04" width="2.98" height="35.05" fill="#bb98d2" stroke="#3c3c3c" stroke-width="0.5"/>
<rect x="571.54" y="64.12" width="2.98" height="31.98" fill="#6ab76f" stroke="#3c3c3c" stroke-width="0.5"/>
<rect x="574.52" y="47.27" width="2.98" height="48.83" fill="#256ca6" stroke="#3c3c3c" stroke-width="0.5"/>
<rect x="577.51" y="47.05" width="2.98" height="49.05" fill="#e87f22" stroke="#3c3c3c" stroke-width="0.5"/>
<rect x="580.49" y="63.81" width="2.98" height="32.29" fill="#6a3f98" stroke="#3c3c3c" stroke-width="0.5"/>
<rect x="583.48" y="65.23" width="2.98" height="30.87" fill="#8a5a4d" stroke="#3c3c3c" stroke-width="0.5"/>
<path d="M534.23 66.7V64.86M537.21 63.07V61.23M540.2 63.47V60.4M543.18 67.59V65.75M546.17 63.94V61.48M549.15 66.46V64M552.14 62.27V59.81M555.12 45.89V40.97M558.11 65.9V63.44M561.09 50.22V46.53M564.08 57.97V54.89M567.06 66.46V63.38M570.05 62.27V59.81M573.03 65.35V62.89M576.02 48.81V45.73M579 48.59V45.52M581.99 65.04V62.58M584.97 66.46V64" stroke="#222" stroke-width="0.8" fill="none" opacity="1"/>
<rect x="599.9" y="63.6" width="2.98" height="32.5" fill="#1f6aa5" stroke="#3c3c3c" stroke-width="0.5"/>
<rect x="602.88" y="61.38" width="2.98" height="34.72" fill="#c8921b" stroke="#3c3c3c" stroke-width="0.5"/>
<rect x="605.87" y="64.92" width="2.98" height="31.18" fill="#e4d95b" stroke="#3c3c3c" stroke-width="0.5"/>
<rect x="608.85" y="67.44" width="2.98" height="28.66" fill="#cf87b5" stroke="#3c3c3c" stroke-width="0.5"/>
<rect x="611.84" y="66.12" width="2.98" height="29.98" fill="#69addf" stroke="#3c3c3c" stroke-width="0.5"/>
<rect x="614.82" y="64.12" width="2.98" height="31.98" fill="#c9641e" stroke="#3c3c3c" stroke-width="0.5"/>
<rect x="617.81" y="60.28" width="2.98" height="35.82" fill="#000000" stroke="#3c3c3c" stroke-width="0.5"/>
<rect x="620.79" y="53.11" width="2.98" height="42.99" fill="#efae97" stroke="#3c3c3c" stroke-width="0.5"/>
<rect x="623.78" y="64.12" width="2.98" height="31.98" fill="#78bde3" stroke="#3c3c3c" stroke-width="0.5"/>
<rect x="626.76" y="58.95" width="2.98" height="37.15" fill="#8dbab3" stroke="#3c3c3c" stroke-width="0.5"/>
<rect x="629.74" y="59.72" width="2.98" height="36.38" fill="#e6934a" stroke="#3c3c3c" stroke-width="0.5"/>
<rect x="632.73" y="64.92" width="2.98" height="31.18" fill="#f4c391" stroke="#3c3c3c" stroke-width="0.5"/>
<rect x="635.71" y="64.92" width="2.98" height="31.18" fill="#bb98d2" stroke="#3c3c3c" stroke-width="0.5"/>
<rect x="638.7" y="63.26" width="2.98" height="32.84" fill="#6ab76f" stroke="#3c3c3c" stroke-width="0.5"/>
<rect x="641.68" y="52.56" width="2.98" height="43.54" fill="#256ca6" stroke="#3c3c3c" stroke-width="0.5"/>
<rect x="644.67" y="54.22" width="2.98" height="41.88" fill="#e87f22" stroke="#3c3c3c" stroke-width="0.5"/>
<rect x="647.65" y="66.33" width="2.98" height="29.77" fill="#6a3f98" stroke="#3c3c3c" stroke-width="0.5"/>
<rect x="650.64" y="63.81" width="2.98" height="32.29" fill="#8a5a4d" stroke="#3c3c3c" stroke-width="0.5"/>
<path d="M601.39 64.52V62.67M604.37 62.61V60.15M607.36 66.15V63.69M610.34 68.36V66.52M613.33 67.04V65.2M616.31 65.35V62.89M619.3 61.2V59.35M622.28 54.96V51.27M625.27 65.35V62.89M628.25 60.8V57.11M631.24 60.95V58.49M634.22 66.15V63.69M637.21 65.84V64M640.19 64.49V62.03M643.18 53.79V51.33M646.16 55.45V52.99M649.15 67.26V65.41M652.13 65.04V62.58" stroke="#222" stroke-width="0.8" fill="none" opacity="1"/>
<rect x="667.06" y="64.55" width="2.98" height="31.55" fill="#1f6aa5" stroke="#3c3c3c" stroke-width="0.5"/>
<rect x="670.04" y="61.23" width="2.98" height="34.87" fill="#c8921b" stroke="#3c3c3c" stroke-width="0.5"/>
<rect x="673.03" y="67.53" width="2.98" height="28.57" fill="#e4d95b" stroke="#3c3c3c" stroke-width="0.5"/>
<rect x="676.01" y="68.73" width="2.98" height="27.37" fill="#cf87b5" stroke="#3c3c3c" stroke-width="0.5"/>
<rect x="679" y="69.04" width="2.98" height="27.06" fill="#69addf" stroke="#3c3c3c" stroke-width="0.5"/>
<rect x="681.98" y="64.24" width="2.98" height="31.86" fill="#c9641e" stroke="#3c3c3c" stroke-width="0.5"/>
<rect x="684.97" y="60.77" width="2.98" height="35.33" fill="#000000" stroke="#3c3c3c" stroke-width="0.5"/>
<rect x="687.95" y="58.52" width="2.98" height="37.58" fill="#efae97" stroke="#3c3c3c" stroke-width="0.5"/>
<rect x="690.94" y="65.29" width="2.98" height="30.81" fill="#78bde3" stroke="#3c3c3c" stroke-width="0.5"/>
<rect x="693.92" y="65.6" width="2.98" height="30.5" fill="#8dbab3" stroke="#3c3c3c" stroke-width="0.5"/>
<rect x="696.9" y="61.23" width="2.98" height="34.87" fill="#e6934a" stroke="#3c3c3c" stroke-width="0.5"/>
<rect x="699.89" y="65.6" width="2.98" height="30.5" fill="#f4c391" stroke="#3c3c3c" stroke-width="0.5"/>
<rect x="702.87" y="66.8" width="2.98" height="29.3" fill="#bb98d2" stroke="#3c3c3c" stroke-width="0.5"/>
<rect x="705.86" y="63.04" width="2.98" height="33.06" fill="#6ab76f" stroke="#3c3c3c" stroke-width="0.5"/>
<rect x="708.84" y="57.79" width="2.98" height="38.31" fill="#256ca6" stroke="#3c3c3c" stroke-width="0.5"/>
<rect x="711.83" y="59.57" width="2.98" height="36.53" fill="#e87f22" stroke="#3c3c3c" stroke-width="0.5"/>
<rect x="714.81" y="67.84" width="2.98" height="28.26" fill="#6a3f98" stroke="#3c3c3c" stroke-width="0.5"/>
<rect x="717.8" y="64.24" width="2.98" height="31.86" fill="#8a5a4d" stroke="#3c3c3c" stroke-width="0.5"/>
<path d="M668.55 66.09V63.01M671.53 63.38V59.08M674.52 69.38V65.69M677.5 70.58V66.89M680.49 71.19V66.89M683.47 65.78V62.71M686.46 62V59.54M689.44 63.04V54M692.43 67.44V63.14M695.41 67.44V63.75M698.4 63.38V59.08M701.38 68.36V62.83M704.37 68.33V65.26M707.35 65.2V60.89M710.34 59.32V56.25M713.32 61.41V57.72M716.31 69.38V66.3M719.29 66.09V62.4" stroke="#222" stroke-width="0.8" fill="none" opacity="1"/>
<rect x="391.7" y="20.3" width="335.8" height="75.8" fill="none" stroke="#7d746e" stroke-width="0.75"/>
<path d="M390.2 96.1H391.7" stroke="#333" stroke-width="0.6"/>
<text class="b" x="389.3" y="97.94" font-size="5.1" text-anchor="end">0.00</text>
<path d="M390.2 80.72H391.7" stroke="#333" stroke-width="0.6"/>
<text class="b" x="389.3" y="82.56" font-size="5.1" text-anchor="end">0.05</text>
<path d="M390.2 65.35H391.7" stroke="#333" stroke-width="0.6"/>
<text class="b" x="389.3" y="67.19" font-size="5.1" text-anchor="end">0.10</text>
<path d="M390.2 49.97H391.7" stroke="#333" stroke-width="0.6"/>
<text class="b" x="389.3" y="51.81" font-size="5.1" text-anchor="end">0.15</text>
<path d="M390.2 34.6H391.7" stroke="#333" stroke-width="0.6"/>
<text class="b" x="389.3" y="36.44" font-size="5.1" text-anchor="end">0.20</text>
<text transform="translate(375.5 58.2) rotate(-90)" font-size="8.1" text-anchor="middle">RMSE</text>
<text x="559.6" y="18" font-size="6.8" text-anchor="middle">seqFISH</text>
<path d="M425.28 96.1V97.4" stroke="#333" stroke-width="0.6"/>
<text class="b" x="425.28" y="102.7" font-size="5" text-anchor="middle">Entire Spots</text>
<path d="M492.44 96.1V97.4" stroke="#333" stroke-width="0.6"/>
<text class="b" x="492.44" y="102.7" font-size="5" text-anchor="middle">Singleton Group</text>
<path d="M559.6 96.1V97.4" stroke="#333" stroke-width="0.6"/>
<text class="b" x="559.6" y="102.7" font-size="5" text-anchor="middle">Doubleton Group</text>
<path d="M626.76 96.1V97.4" stroke="#333" stroke-width="0.6"/>
<text class="b" x="626.76" y="102.7" font-size="5" text-anchor="middle">Tripleton Group</text>
<path d="M693.92 96.1V97.4" stroke="#333" stroke-width="0.6"/>
<text class="b" x="693.92" y="102.7" font-size="5" text-anchor="middle">Multiton Group</text>
<text x="372" y="9.3" font-size="11.2" font-weight="bold" font-family="Liberation Sans, Arial, sans-serif">D</text>
</g>
<g>
<rect x="395.28" y="214.16" width="3.01" height="3.74" fill="#1f6aa5" stroke="#3c3c3c" stroke-width="0.5"/>
<rect x="398.3" y="210.91" width="3.01" height="6.99" fill="#c8921b" stroke="#3c3c3c" stroke-width="0.5"/>
<rect x="401.31" y="205.3" width="3.01" height="12.6" fill="#e4d95b" stroke="#3c3c3c" stroke-width="0.5"/>
<rect x="404.32" y="166.96" width="3.01" height="50.94" fill="#cf87b5" stroke="#3c3c3c" stroke-width="0.5"/>
<rect x="407.34" y="209.18" width="3.01" height="8.72" fill="#69addf" stroke="#3c3c3c" stroke-width="0.5"/>
<rect x="410.35" y="210.91" width="3.01" height="6.99" fill="#c9641e" stroke="#3c3c3c" stroke-width="0.5"/>
<rect x="413.37" y="209.61" width="3.01" height="8.29" fill="#000000" stroke="#3c3c3c" stroke-width="0.5"/>
<rect x="416.38" y="177.61" width="3.01" height="40.29" fill="#efae97" stroke="#3c3c3c" stroke-width="0.5"/>
<rect x="419.4" y="201.15" width="3.01" height="16.75" fill="#78bde3" stroke="#3c3c3c" stroke-width="0.5"/>
<rect x="422.41" y="191.23" width="3.01" height="26.67" fill="#8dbab3" stroke="#3c3c3c" stroke-width="0.5"/>
<rect x="425.42" y="188.63" width="3.01" height="29.27" fill="#e6934a" stroke="#3c3c3c" stroke-width="0.5"/>
<rect x="428.44" y="211.79" width="3.01" height="6.11" fill="#f4c391" stroke="#3c3c3c" stroke-width="0.5"/>
<rect x="431.45" y="210.91" width="3.01" height="6.99" fill="#bb98d2" stroke="#3c3c3c" stroke-width="0.5"/>
<rect x="434.47" y="199.04" width="3.01" height="18.86" fill="#6ab76f" stroke="#3c3c3c" stroke-width="0.5"/>
<rect x="437.48" y="189.28" width="3.01" height="28.62" fill="#256ca6" stroke="#3c3c3c" stroke-width="0.5"/>
<rect x="440.5" y="175.53" width="3.01" height="42.37" fill="#e87f22" stroke="#3c3c3c" stroke-width="0.5"/>
<rect x="443.51" y="205.05" width="3.01" height="12.85" fill="#6a3f98" stroke="#3c3c3c" stroke-width="0.5"/>
<rect x="446.52" y="212.31" width="3.01" height="5.59" fill="#8a5a4d" stroke="#3c3c3c" stroke-width="0.5"/>
<path d="M396.79 215.95V211.79M399.8 214.65V206.84M402.82 206.27V204.32M405.83 168.75V165.17M408.85 209.84V208.53M411.86 214.65V206.84M414.87 212.37V207.25M417.89 178.75V176.47M420.9 212.05V190.75M423.92 205.54V176.76M426.93 190.75V186.52M429.95 213.57V210M432.96 213.35V208.47M435.97 203.92V194.16M438.99 193.67V184.89M442 176.18V174.88M445.02 206.03V204.08M448.03 215.04V209.18" stroke="#444" stroke-width="1.4" fill="none" opacity="0.55"/>
<rect x="463.1" y="216.76" width="3.01" height="1.14" fill="#1f6aa5" stroke="#3c3c3c" stroke-width="0.5"/>
<rect x="466.12" y="212.63" width="3.01" height="5.27" fill="#c8921b" stroke="#3c3c3c" stroke-width="0.5"/>
<rect x="469.13" y="203.4" width="3.01" height="14.5" fill="#e4d95b" stroke="#3c3c3c" stroke-width="0.5"/>
<rect x="472.14" y="153.3" width="3.01" height="64.6" fill="#cf87b5" stroke="#3c3c3c" stroke-width="0.5"/>
<rect x="475.16" y="209.44" width="3.01" height="8.46" fill="#69addf" stroke="#3c3c3c" stroke-width="0.5"/>
<rect x="478.17" y="215.95" width="3.01" height="1.95" fill="#c9641e" stroke="#3c3c3c" stroke-width="0.5"/>
<rect x="481.19" y="216.27" width="3.01" height="1.63" fill="#000000" stroke="#3c3c3c" stroke-width="0.5"/>
<rect x="484.2" y="164.29" width="3.01" height="53.61" fill="#efae97" stroke="#3c3c3c" stroke-width="0.5"/>
<rect x="487.22" y="202.29" width="3.01" height="15.61" fill="#78bde3" stroke="#3c3c3c" stroke-width="0.5"/>
<rect x="490.23" y="182.45" width="3.01" height="35.45" fill="#8dbab3" stroke="#3c3c3c" stroke-width="0.5"/>
<rect x="493.24" y="172.53" width="3.01" height="45.37" fill="#e6934a" stroke="#3c3c3c" stroke-width="0.5"/>
<rect x="496.26" y="214.81" width="3.01" height="3.09" fill="#f4c391" stroke="#3c3c3c" stroke-width="0.5"/>
<rect x="499.27" y="215.7" width="3.01" height="2.2" fill="#bb98d2" stroke="#3c3c3c" stroke-width="0.5"/>
<rect x="502.29" y="193.4" width="3.01" height="24.5" fill="#6ab76f" stroke="#3c3c3c" stroke-width="0.5"/>
<rect x="505.3" y="180.88" width="3.01" height="37.02" fill="#256ca6" stroke="#3c3c3c" stroke-width="0.5"/>
<rect x="508.32" y="158.23" width="3.01" height="59.67" fill="#e87f22" stroke="#3c3c3c" stroke-width="0.5"/>
<rect x="511.33" y="203.4" width="3.01" height="14.5" fill="#6a3f98" stroke="#3c3c3c" stroke-width="0.5"/>
<rect x="514.34" y="216.6" width="3.01" height="1.3" fill="#8a5a4d" stroke="#3c3c3c" stroke-width="0.5"/>
<path d="M464.61 217.9V215.7M467.62 216.27V208.57M470.64 207.46V199.33M473.65 160.88V145.72M476.67 213.35V205.54M479.68 217.25V214.65M482.69 217.74V214.81M485.71 169.98V158.6M488.72 213.02V191.56M491.74 202.52V162.78M494.75 181.15V163.92M497.77 216.44V213.18M500.78 217.33V214.08M503.79 198.44V188.36M506.81 193.23V168.52M509.82 164V152.45M512.84 205.51V201.28M515.85 217.74V215.46" stroke="#222" stroke-width="0.8" fill="none" opacity="1"/>
<rect x="530.92" y="213.51" width="3.01" height="4.39" fill="#1f6aa5" stroke="#3c3c3c" stroke-width="0.5"/>
<rect x="533.94" y="209.66" width="3.01" height="8.24" fill="#c8921b" stroke="#3c3c3c" stroke-width="0.5"/>
<rect x="536.95" y="204.73" width="3.01" height="13.17" fill="#e4d95b" stroke="#3c3c3c" stroke-width="0.5"/>
<rect x="539.96" y="164.29" width="3.01" height="53.61" fill="#cf87b5" stroke="#3c3c3c" stroke-width="0.5"/>
<rect x="542.98" y="210.75" width="3.01" height="7.15" fill="#69addf" stroke="#3c3c3c" stroke-width="0.5"/>
<rect x="545.99" y="209.66" width="3.01" height="8.24" fill="#c9641e" stroke="#3c3c3c" stroke-width="0.5"/>
<rect x="549.01" y="206.68" width="3.01" height="11.22" fill="#000000" stroke="#3c3c3c" stroke-width="0.5"/>
<rect x="552.02" y="184.4" width="3.01" height="33.5" fill="#efae97" stroke="#3c3c3c" stroke-width="0.5"/>
<rect x="555.04" y="200.34" width="3.01" height="17.56" fill="#78bde3" stroke="#3c3c3c" stroke-width="0.5"/>
<rect x="558.05" y="192.4" width="3.01" height="25.5" fill="#8dbab3" stroke="#3c3c3c" stroke-width="0.5"/>
<rect x="561.06" y="195.38" width="3.01" height="22.52" fill="#e6934a" stroke="#3c3c3c" stroke-width="0.5"/>
<rect x="564.08" y="211.07" width="3.01" height="6.83" fill="#f4c391" stroke="#3c3c3c" stroke-width="0.5"/>
<rect x="567.09" y="208.79" width="3.01" height="9.11" fill="#bb98d2" stroke="#3c3c3c" stroke-width="0.5"/>
<rect x="570.11" y="197.58" width="3.01" height="20.32" fill="#6ab76f" stroke="#3c3c3c" stroke-width="0.5"/>
<rect x="573.12" y="197.58" width="3.01" height="20.32" fill="#256ca6" stroke="#3c3c3c" stroke-width="0.5"/>
<rect x="576.14" y="189.12" width="3.01" height="28.78" fill="#e87f22" stroke="#3c3c3c" stroke-width="0.5"/>
<rect x="579.15" y="207.49" width="3.01" height="10.41" fill="#6a3f98" stroke="#3c3c3c" stroke-width="0.5"/>
<rect x="582.16" y="211.88" width="3.01" height="6.02" fill="#8a5a4d" stroke="#3c3c3c" stroke-width="0.5"/>
<path d="M532.43 215.14V211.88M535.44 214.53V204.78M538.46 206.52V202.94M541.47 170.06V158.52M544.49 212.94V208.55M547.5 215.18V204.13M550.51 208.96V204.4M553.53 195.56V173.25M556.54 212.37V188.31M559.56 212.24V172.57M562.57 205.38V185.38M565.59 213.51V208.63M568.6 211.15V206.44M571.61 205.71V189.44M574.63 206.84V188.31M577.64 204.73V173.51M580.66 214V200.99M583.67 215.14V208.63" stroke="#222" stroke-width="0.8" fill="none" opacity="1"/>
<rect x="598.74" y="212.21" width="3.01" height="5.69" fill="#1f6aa5" stroke="#3c3c3c" stroke-width="0.5"/>
<rect x="601.76" y="210.42" width="3.01" height="7.48" fill="#c8921b" stroke="#3c3c3c" stroke-width="0.5"/>
<rect x="604.77" y="204.5" width="3.01" height="13.4" fill="#e4d95b" stroke="#3c3c3c" stroke-width="0.5"/>
<rect x="607.78" y="185.49" width="3.01" height="32.41" fill="#cf87b5" stroke="#3c3c3c" stroke-width="0.5"/>
<rect x="610.8" y="210.21" width="3.01" height="7.69" fill="#69addf" stroke="#3c3c3c" stroke-width="0.5"/>
<rect x="613.81" y="209.44" width="3.01" height="8.46" fill="#c9641e" stroke="#3c3c3c" stroke-width="0.5"/>
<rect x="616.83" y="203.4" width="3.01" height="14.5" fill="#000000" stroke="#3c3c3c" stroke-width="0.5"/>
<rect x="619.84" y="195.38" width="3.01" height="22.52" fill="#efae97" stroke="#3c3c3c" stroke-width="0.5"/>
<rect x="622.86" y="200.34" width="3.01" height="17.56" fill="#78bde3" stroke="#3c3c3c" stroke-width="0.5"/>
<rect x="625.87" y="195.38" width="3.01" height="22.52" fill="#8dbab3" stroke="#3c3c3c" stroke-width="0.5"/>
<rect x="628.88" y="197.9" width="3.01" height="20" fill="#e6934a" stroke="#3c3c3c" stroke-width="0.5"/>
<rect x="631.9" y="209.66" width="3.01" height="8.24" fill="#f4c391" stroke="#3c3c3c" stroke-width="0.5"/>
<rect x="634.91" y="207.82" width="3.01" height="10.08" fill="#bb98d2" stroke="#3c3c3c" stroke-width="0.5"/>
<rect x="637.93" y="199.77" width="3.01" height="18.13" fill="#6ab76f" stroke="#3c3c3c" stroke-width="0.5"/>
<rect x="640.94" y="201.2" width="3.01" height="16.7" fill="#256ca6" stroke="#3c3c3c" stroke-width="0.5"/>
<rect x="643.96" y="193.74" width="3.01" height="24.16" fill="#e87f22" stroke="#3c3c3c" stroke-width="0.5"/>
<rect x="646.97" y="206.91" width="3.01" height="10.99" fill="#6a3f98" stroke="#3c3c3c" stroke-width="0.5"/>
<rect x="649.98" y="210.42" width="3.01" height="7.48" fill="#8a5a4d" stroke="#3c3c3c" stroke-width="0.5"/>
<path d="M600.25 213.02V211.4M603.26 213.35V207.49M606.28 207.75V201.25M609.29 194.76V176.23M612.31 212.65V207.77M615.32 213.51V205.38M618.33 205.51V201.28M621.35 206.53V184.23M624.36 209.12V191.56M627.38 206.37V184.39M630.39 199.85V195.95M633.41 210.47V208.84M636.42 208.79V206.84M639.43 209.04V190.5M642.45 204.78V197.62M645.46 209.12V178.36M648.48 209.67V204.14M651.49 213.35V207.49" stroke="#444" stroke-width="1.4" fill="none" opacity="0.55"/>
<rect x="666.56" y="214.06" width="3.01" height="3.84" fill="#1f6aa5" stroke="#3c3c3c" stroke-width="0.5"/>
<rect x="669.58" y="211.07" width="3.01" height="6.83" fill="#c8921b" stroke="#3c3c3c" stroke-width="0.5"/>
<rect x="672.59" y="205.82" width="3.01" height="12.08" fill="#e4d95b" stroke="#3c3c3c" stroke-width="0.5"/>
<rect x="675.6" y="197.8" width="3.01" height="20.1" fill="#cf87b5" stroke="#3c3c3c" stroke-width="0.5"/>
<rect x="678.62" y="215.7" width="3.01" height="2.2" fill="#69addf" stroke="#3c3c3c" stroke-width="0.5"/>
<rect x="681.63" y="205.27" width="3.01" height="12.63" fill="#c9641e" stroke="#3c3c3c" stroke-width="0.5"/>
<rect x="684.65" y="189.88" width="3.01" height="28.02" fill="#000000" stroke="#3c3c3c" stroke-width="0.5"/>
<rect x="687.66" y="203.62" width="3.01" height="14.28" fill="#efae97" stroke="#3c3c3c" stroke-width="0.5"/>
<rect x="690.68" y="201.97" width="3.01" height="15.93" fill="#78bde3" stroke="#3c3c3c" stroke-width="0.5"/>
<rect x="693.69" y="202.52" width="3.01" height="15.38" fill="#8dbab3" stroke="#3c3c3c" stroke-width="0.5"/>
<rect x="696.7" y="206.36" width="3.01" height="11.54" fill="#e6934a" stroke="#3c3c3c" stroke-width="0.5"/>
<rect x="699.72" y="211.88" width="3.01" height="6.02" fill="#f4c391" stroke="#3c3c3c" stroke-width="0.5"/>
<rect x="702.73" y="205.59" width="3.01" height="12.31" fill="#bb98d2" stroke="#3c3c3c" stroke-width="0.5"/>
<rect x="705.75" y="206.52" width="3.01" height="11.38" fill="#6ab76f" stroke="#3c3c3c" stroke-width="0.5"/>
<rect x="708.76" y="204.16" width="3.01" height="13.74" fill="#256ca6" stroke="#3c3c3c" stroke-width="0.5"/>
<rect x="711.78" y="200.34" width="3.01" height="17.56" fill="#e87f22" stroke="#3c3c3c" stroke-width="0.5"/>
<rect x="714.79" y="211.56" width="3.01" height="6.34" fill="#6a3f98" stroke="#3c3c3c" stroke-width="0.5"/>
<rect x="717.8" y="205.27" width="3.01" height="12.63" fill="#8a5a4d" stroke="#3c3c3c" stroke-width="0.5"/>
<path d="M668.07 216.83V211.3M671.08 213.18V208.96M674.1 208.84V202.79M677.11 207.07V188.53M680.13 217.9V213.51M683.14 210.96V199.57M686.15 210.21V169.56M689.17 213.54V193.71M692.18 205.22V198.71M695.2 209.84V195.2M698.21 214.16V198.55M701.23 214.08V209.69M704.24 211.36V199.82M707.25 211.23V201.8M710.27 206.92V201.4M713.28 213.02V187.66M716.3 213.51V209.61M719.31 210.14V200.39" stroke="#444" stroke-width="1.4" fill="none" opacity="0.55"/>
<rect x="388.5" y="142.2" width="339.1" height="75.7" fill="none" stroke="#7d746e" stroke-width="0.75"/>
<path d="M387 217.9H388.5" stroke="#333" stroke-width="0.6"/>
<text class="b" x="386.1" y="219.74" font-size="5.1" text-anchor="end">0.0</text>
<path d="M387 201.64H388.5" stroke="#333" stroke-width="0.6"/>
<text class="b" x="386.1" y="203.48" font-size="5.1" text-anchor="end">0.1</text>
<path d="M387 185.38H388.5" stroke="#333" stroke-width="0.6"/>
<text class="b" x="386.1" y="187.22" font-size="5.1" text-anchor="end">0.2</text>
<path d="M387 169.12H388.5" stroke="#333" stroke-width="0.6"/>
<text class="b" x="386.1" y="170.96" font-size="5.1" text-anchor="end">0.3</text>
<path d="M387 152.86H388.5" stroke="#333" stroke-width="0.6"/>
<text class="b" x="386.1" y="154.7" font-size="5.1" text-anchor="end">0.4</text>
<text transform="translate(375.5 180.05) rotate(-90)" font-size="8.3" text-anchor="middle">JSD</text>
<text x="558.05" y="140" font-size="6.8" text-anchor="middle">seqFISH+</text>
<path d="M422.41 217.9V219.2" stroke="#333" stroke-width="0.6"/>
<text class="b" x="422.41" y="224.5" font-size="5" text-anchor="middle">Entire Spots</text>
<path d="M490.23 217.9V219.2" stroke="#333" stroke-width="0.6"/>
<text class="b" x="490.23" y="224.5" font-size="5" text-anchor="middle">Singleton Group</text>
<path d="M558.05 217.9V219.2" stroke="#333" stroke-width="0.6"/>
<text class="b" x="558.05" y="224.5" font-size="5" text-anchor="middle">Doubleton Group</text>
<path d="M625.87 217.9V219.2" stroke="#333" stroke-width="0.6"/>
<text class="b" x="625.87" y="224.5" font-size="5" text-anchor="middle">Tripleton Group</text>
<path d="M693.69 217.9V219.2" stroke="#333" stroke-width="0.6"/>
<text class="b" x="693.69" y="224.5" font-size="5" text-anchor="middle">Multiton Group</text>
<text x="372.4" y="133.3" font-size="11.2" font-weight="bold" font-family="Liberation Sans, Arial, sans-serif">E</text>
</g>
<g>
<rect x="399.2" y="342.58" width="2.98" height="10.52" fill="#1f6aa5" stroke="#3c3c3c" stroke-width="0.5"/>
<rect x="402.18" y="304.11" width="2.98" height="48.99" fill="#c8921b" stroke="#3c3c3c" stroke-width="0.5"/>
<rect x="405.16" y="336.89" width="2.98" height="16.21" fill="#e4d95b" stroke="#3c3c3c" stroke-width="0.5"/>
<rect x="408.14" y="313.33" width="2.98" height="39.77" fill="#cf87b5" stroke="#3c3c3c" stroke-width="0.5"/>
<rect x="411.12" y="341.74" width="2.98" height="11.36" fill="#69addf" stroke="#3c3c3c" stroke-width="0.5"/>
<rect x="414.1" y="342.21" width="2.98" height="10.89" fill="#c9641e" stroke="#3c3c3c" stroke-width="0.5"/>
<rect x="417.08" y="338.98" width="2.98" height="14.12" fill="#000000" stroke="#3c3c3c" stroke-width="0.5"/>
<rect x="420.06" y="313.8" width="2.98" height="39.3" fill="#efae97" stroke="#3c3c3c" stroke-width="0.5"/>
<rect x="423.04" y="317.57" width="2.98" height="35.53" fill="#78bde3" stroke="#3c3c3c" stroke-width="0.5"/>
<rect x="426.02" y="321.64" width="2.98" height="31.46" fill="#8dbab3" stroke="#3c3c3c" stroke-width="0.5"/>
<rect x="429" y="330.28" width="2.98" height="22.82" fill="#e6934a" stroke="#3c3c3c" stroke-width="0.5"/>
<rect x="431.98" y="340.39" width="2.98" height="12.71" fill="#f4c391" stroke="#3c3c3c" stroke-width="0.5"/>
<rect x="434.96" y="319.83" width="2.98" height="33.27" fill="#bb98d2" stroke="#3c3c3c" stroke-width="0.5"/>
<rect x="437.94" y="334.75" width="2.98" height="18.35" fill="#6ab76f" stroke="#3c3c3c" stroke-width="0.5"/>
<rect x="440.92" y="316.32" width="2.98" height="36.78" fill="#256ca6" stroke="#3c3c3c" stroke-width="0.5"/>
<rect x="443.9" y="323.59" width="2.98" height="29.51" fill="#e87f22" stroke="#3c3c3c" stroke-width="0.5"/>
<rect x="446.88" y="340.77" width="2.98" height="12.33" fill="#6a3f98" stroke="#3c3c3c" stroke-width="0.5"/>
<rect x="449.86" y="344.02" width="2.98" height="9.08" fill="#8a5a4d" stroke="#3c3c3c" stroke-width="0.5"/>
<path d="M400.69 342.82V342.35M403.67 304.46V303.76M406.65 337.59V336.18M409.63 314.04V312.63M412.61 342.09V341.38M415.59 342.56V341.85M418.57 339.22V338.75M421.55 314.28V313.33M424.53 318.51V316.63M427.51 322.11V321.17M430.49 330.75V329.81M433.47 341.1V339.69M436.45 320.53V319.12M439.43 335.22V334.28M442.41 316.56V316.09M445.39 324.06V323.12M448.37 341.01V340.53M451.35 344.25V343.78" stroke="#222" stroke-width="0.8" fill="none" opacity="1"/>
<rect x="466.24" y="347.83" width="2.98" height="5.27" fill="#1f6aa5" stroke="#3c3c3c" stroke-width="0.5"/>
<rect x="469.22" y="282.32" width="2.98" height="70.78" fill="#c8921b" stroke="#3c3c3c" stroke-width="0.5"/>
<rect x="472.2" y="329.29" width="2.98" height="23.81" fill="#e4d95b" stroke="#3c3c3c" stroke-width="0.5"/>
<rect x="475.18" y="305.9" width="2.98" height="47.2" fill="#cf87b5" stroke="#3c3c3c" stroke-width="0.5"/>
<rect x="478.16" y="342.98" width="2.98" height="10.12" fill="#69addf" stroke="#3c3c3c" stroke-width="0.5"/>
<rect x="481.14" y="345.43" width="2.98" height="7.67" fill="#c9641e" stroke="#3c3c3c" stroke-width="0.5"/>
<rect x="484.12" y="346.18" width="2.98" height="6.92" fill="#000000" stroke="#3c3c3c" stroke-width="0.5"/>
<rect x="487.1" y="298.77" width="2.98" height="54.33" fill="#efae97" stroke="#3c3c3c" stroke-width="0.5"/>
<rect x="490.08" y="314.91" width="2.98" height="38.19" fill="#78bde3" stroke="#3c3c3c" stroke-width="0.5"/>
<rect x="493.06" y="306.23" width="2.98" height="46.87" fill="#8dbab3" stroke="#3c3c3c" stroke-width="0.5"/>
<rect x="496.04" y="329.73" width="2.98" height="23.37" fill="#e6934a" stroke="#3c3c3c" stroke-width="0.5"/>
<rect x="499.02" y="340.49" width="2.98" height="12.61" fill="#f4c391" stroke="#3c3c3c" stroke-width="0.5"/>
<rect x="502" y="315.03" width="2.98" height="38.07" fill="#bb98d2" stroke="#3c3c3c" stroke-width="0.5"/>
<rect x="504.98" y="326.21" width="2.98" height="26.89" fill="#6ab76f" stroke="#3c3c3c" stroke-width="0.5"/>
<rect x="507.96" y="303.17" width="2.98" height="49.93" fill="#256ca6" stroke="#3c3c3c" stroke-width="0.5"/>
<rect x="510.94" y="306.13" width="2.98" height="46.97" fill="#e87f22" stroke="#3c3c3c" stroke-width="0.5"/>
<rect x="513.92" y="341.34" width="2.98" height="11.77" fill="#6a3f98" stroke="#3c3c3c" stroke-width="0.5"/>
<rect x="516.9" y="347.29" width="2.98" height="5.81" fill="#8a5a4d" stroke="#3c3c3c" stroke-width="0.5"/>
<path d="M467.73 348.3V347.36M470.71 283.26V281.38M473.69 330.23V328.35M476.67 308.02V303.78M479.65 343.69V342.28M482.63 346.14V344.72M485.61 346.89V345.48M488.59 300.89V296.65M491.57 316.79V313.03M494.55 308.11V304.35M497.53 330.91V328.56M500.51 341.66V339.31M503.49 316.44V313.62M506.47 327.38V325.03M509.45 304.35V301.99M512.43 307.31V304.96M515.41 342.28V340.39M518.39 347.76V346.82" stroke="#222" stroke-width="0.8" fill="none" opacity="1"/>
<rect x="533.28" y="341.57" width="2.98" height="11.53" fill="#1f6aa5" stroke="#3c3c3c" stroke-width="0.5"/>
<rect x="536.26" y="293.5" width="2.98" height="59.6" fill="#c8921b" stroke="#3c3c3c" stroke-width="0.5"/>
<rect x="539.24" y="334.65" width="2.98" height="18.45" fill="#e4d95b" stroke="#3c3c3c" stroke-width="0.5"/>
<rect x="542.22" y="308.11" width="2.98" height="44.99" fill="#cf87b5" stroke="#3c3c3c" stroke-width="0.5"/>
<rect x="545.2" y="339.59" width="2.98" height="13.51" fill="#69addf" stroke="#3c3c3c" stroke-width="0.5"/>
<rect x="548.18" y="341.81" width="2.98" height="11.29" fill="#c9641e" stroke="#3c3c3c" stroke-width="0.5"/>
<rect x="551.16" y="339.38" width="2.98" height="13.72" fill="#000000" stroke="#3c3c3c" stroke-width="0.5"/>
<rect x="554.14" y="305.9" width="2.98" height="47.2" fill="#efae97" stroke="#3c3c3c" stroke-width="0.5"/>
<rect x="557.12" y="313.38" width="2.98" height="39.72" fill="#78bde3" stroke="#3c3c3c" stroke-width="0.5"/>
<rect x="560.1" y="314.46" width="2.98" height="38.64" fill="#8dbab3" stroke="#3c3c3c" stroke-width="0.5"/>
<rect x="563.08" y="328.96" width="2.98" height="24.14" fill="#e6934a" stroke="#3c3c3c" stroke-width="0.5"/>
<rect x="566.06" y="339.38" width="2.98" height="13.72" fill="#f4c391" stroke="#3c3c3c" stroke-width="0.5"/>
<rect x="569.04" y="315.45" width="2.98" height="37.65" fill="#bb98d2" stroke="#3c3c3c" stroke-width="0.5"/>
<rect x="572.02" y="330.82" width="2.98" height="22.28" fill="#6ab76f" stroke="#3c3c3c" stroke-width="0.5"/>
<rect x="575" y="310.84" width="2.98" height="42.26" fill="#256ca6" stroke="#3c3c3c" stroke-width="0.5"/>
<rect x="577.98" y="318.21" width="2.98" height="34.89" fill="#e87f22" stroke="#3c3c3c" stroke-width="0.5"/>
<rect x="580.96" y="339.38" width="2.98" height="13.72" fill="#6a3f98" stroke="#3c3c3c" stroke-width="0.5"/>
<rect x="583.94" y="343.55" width="2.98" height="9.55" fill="#8a5a4d" stroke="#3c3c3c" stroke-width="0.5"/>
<path d="M534.77 342.04V341.1M537.75 293.97V293.03M540.73 335.36V333.95M543.71 309.29V306.93M546.69 340.06V339.12M549.67 342.28V341.34M552.65 339.85V338.91M555.63 306.84V304.96M558.61 315.03V311.73M561.59 315.4V313.52M564.57 329.9V328.02M567.55 340.56V338.21M570.53 316.63V314.28M573.51 331.76V329.88M576.49 311.78V309.9M579.47 319.15V317.26M582.45 339.85V338.91M585.43 344.02V343.08" stroke="#222" stroke-width="0.8" fill="none" opacity="1"/>
<rect x="600.32" y="341.34" width="2.98" height="11.77" fill="#1f6aa5" stroke="#3c3c3c" stroke-width="0.5"/>
<rect x="603.3" y="308.44" width="2.98" height="44.66" fill="#c8921b" stroke="#3c3c3c" stroke-width="0.5"/>
<rect x="606.28" y="338.84" width="2.98" height="14.26" fill="#e4d95b" stroke="#3c3c3c" stroke-width="0.5"/>
<rect x="609.26" y="313.92" width="2.98" height="39.18" fill="#cf87b5" stroke="#3c3c3c" stroke-width="0.5"/>
<rect x="612.24" y="341.57" width="2.98" height="11.53" fill="#69addf" stroke="#3c3c3c" stroke-width="0.5"/>
<rect x="615.22" y="341.81" width="2.98" height="11.29" fill="#c9641e" stroke="#3c3c3c" stroke-width="0.5"/>
<rect x="618.2" y="337.41" width="2.98" height="15.69" fill="#000000" stroke="#3c3c3c" stroke-width="0.5"/>
<rect x="621.18" y="316.35" width="2.98" height="36.75" fill="#efae97" stroke="#3c3c3c" stroke-width="0.5"/>
<rect x="624.16" y="317.66" width="2.98" height="35.44" fill="#78bde3" stroke="#3c3c3c" stroke-width="0.5"/>
<rect x="627.14" y="324.89" width="2.98" height="28.21" fill="#8dbab3" stroke="#3c3c3c" stroke-width="0.5"/>
<rect x="630.12" y="330.61" width="2.98" height="22.49" fill="#e6934a" stroke="#3c3c3c" stroke-width="0.5"/>
<rect x="633.1" y="340.25" width="2.98" height="12.85" fill="#f4c391" stroke="#3c3c3c" stroke-width="0.5"/>
<rect x="636.08" y="320.39" width="2.98" height="32.71" fill="#bb98d2" stroke="#3c3c3c" stroke-width="0.5"/>
<rect x="639.06" y="336.86" width="2.98" height="16.24" fill="#6ab76f" stroke="#3c3c3c" stroke-width="0.5"/>
<rect x="642.04" y="319.85" width="2.98" height="33.25" fill="#256ca6" stroke="#3c3c3c" stroke-width="0.5"/>
<rect x="645.02" y="327.52" width="2.98" height="25.58" fill="#e87f22" stroke="#3c3c3c" stroke-width="0.5"/>
<rect x="648" y="340.49" width="2.98" height="12.61" fill="#6a3f98" stroke="#3c3c3c" stroke-width="0.5"/>
<rect x="650.98" y="343.45" width="2.98" height="9.65" fill="#8a5a4d" stroke="#3c3c3c" stroke-width="0.5"/>
<path d="M601.81 341.81V340.86M604.79 308.91V307.97M607.77 339.55V338.13M610.75 314.86V312.98M613.73 342.04V341.1M616.71 342.28V341.34M619.69 337.88V336.93M622.67 317.05V315.64M625.65 319.31V316.02M628.63 325.83V323.95M631.61 331.31V329.9M634.59 341.19V339.31M637.57 321.33V319.45M640.55 337.57V336.16M643.53 320.56V319.15M646.51 328.23V326.82M649.49 340.96V340.02M652.47 343.92V342.98" stroke="#222" stroke-width="0.8" fill="none" opacity="1"/>
<rect x="667.36" y="341.34" width="2.98" height="11.77" fill="#1f6aa5" stroke="#3c3c3c" stroke-width="0.5"/>
<rect x="670.34" y="325.66" width="2.98" height="27.44" fill="#c8921b" stroke="#3c3c3c" stroke-width="0.5"/>
<rect x="673.32" y="340.49" width="2.98" height="12.61" fill="#e4d95b" stroke="#3c3c3c" stroke-width="0.5"/>
<rect x="676.3" y="322.58" width="2.98" height="30.52" fill="#cf87b5" stroke="#3c3c3c" stroke-width="0.5"/>
<rect x="679.28" y="344.32" width="2.98" height="8.78" fill="#69addf" stroke="#3c3c3c" stroke-width="0.5"/>
<rect x="682.26" y="341.57" width="2.98" height="11.53" fill="#c9641e" stroke="#3c3c3c" stroke-width="0.5"/>
<rect x="685.24" y="336.3" width="2.98" height="16.8" fill="#000000" stroke="#3c3c3c" stroke-width="0.5"/>
<rect x="688.22" y="328.96" width="2.98" height="24.14" fill="#efae97" stroke="#3c3c3c" stroke-width="0.5"/>
<rect x="691.2" y="323.15" width="2.98" height="29.95" fill="#78bde3" stroke="#3c3c3c" stroke-width="0.5"/>
<rect x="694.18" y="335.76" width="2.98" height="17.34" fill="#8dbab3" stroke="#3c3c3c" stroke-width="0.5"/>
<rect x="697.16" y="332.46" width="2.98" height="20.64" fill="#e6934a" stroke="#3c3c3c" stroke-width="0.5"/>
<rect x="700.14" y="341.34" width="2.98" height="11.77" fill="#f4c391" stroke="#3c3c3c" stroke-width="0.5"/>
<rect x="703.12" y="326.75" width="2.98" height="26.35" fill="#bb98d2" stroke="#3c3c3c" stroke-width="0.5"/>
<rect x="706.1" y="341.03" width="2.98" height="12.07" fill="#6ab76f" stroke="#3c3c3c" stroke-width="0.5"/>
<rect x="709.08" y="326.98" width="2.98" height="26.12" fill="#256ca6" stroke="#3c3c3c" stroke-width="0.5"/>
<rect x="712.06" y="336.42" width="2.98" height="16.68" fill="#e87f22" stroke="#3c3c3c" stroke-width="0.5"/>
<rect x="715.04" y="342.46" width="2.98" height="10.64" fill="#6a3f98" stroke="#3c3c3c" stroke-width="0.5"/>
<rect x="718.02" y="342.98" width="2.98" height="10.12" fill="#8a5a4d" stroke="#3c3c3c" stroke-width="0.5"/>
<path d="M668.85 341.81V340.86M671.83 326.13V325.19M674.81 341.19V339.78M677.79 323.29V321.88M680.77 344.79V343.85M683.75 342.04V341.1M686.73 336.77V335.83M689.71 329.66V328.25M692.69 324.32V321.97M695.67 336.46V335.05M698.65 333.17V331.76M701.63 342.04V340.63M704.61 327.45V326.04M707.59 341.74V340.32M710.57 327.69V326.28M713.55 337.12V335.71M716.53 342.94V341.99M719.51 343.45V342.51" stroke="#222" stroke-width="0.8" fill="none" opacity="1"/>
<rect x="392.5" y="277.4" width="335.2" height="75.7" fill="none" stroke="#7d746e" stroke-width="0.75"/>
<path d="M391 353.1H392.5" stroke="#333" stroke-width="0.6"/>
<text class="b" x="390.1" y="354.94" font-size="5.1" text-anchor="end">0.00</text>
<path d="M391 341.34H392.5" stroke="#333" stroke-width="0.6"/>
<text class="b" x="390.1" y="343.17" font-size="5.1" text-anchor="end">0.05</text>
<path d="M391 329.57H392.5" stroke="#333" stroke-width="0.6"/>
<text class="b" x="390.1" y="331.41" font-size="5.1" text-anchor="end">0.10</text>
<path d="M391 317.81H392.5" stroke="#333" stroke-width="0.6"/>
<text class="b" x="390.1" y="319.64" font-size="5.1" text-anchor="end">0.15</text>
<path d="M391 306.04H392.5" stroke="#333" stroke-width="0.6"/>
<text class="b" x="390.1" y="307.88" font-size="5.1" text-anchor="end">0.20</text>
<path d="M391 294.28H392.5" stroke="#333" stroke-width="0.6"/>
<text class="b" x="390.1" y="296.11" font-size="5.1" text-anchor="end">0.25</text>
<path d="M391 282.51H392.5" stroke="#333" stroke-width="0.6"/>
<text class="b" x="390.1" y="284.35" font-size="5.1" text-anchor="end">0.30</text>
<text transform="translate(375.5 315.25) rotate(-90)" font-size="8.3" text-anchor="middle">JSD</text>
<text x="560.1" y="275.1" font-size="6.8" text-anchor="middle">MERFISH</text>
<path d="M426.02 353.1V354.4" stroke="#333" stroke-width="0.6"/>
<text class="b" x="426.02" y="359.7" font-size="5" text-anchor="middle">Entire Spots</text>
<path d="M493.06 353.1V354.4" stroke="#333" stroke-width="0.6"/>
<text class="b" x="493.06" y="359.7" font-size="5" text-anchor="middle">Singleton Group</text>
<path d="M560.1 353.1V354.4" stroke="#333" stroke-width="0.6"/>
<text class="b" x="560.1" y="359.7" font-size="5" text-anchor="middle">Doubleton Group</text>
<path d="M627.14 353.1V354.4" stroke="#333" stroke-width="0.6"/>
<text class="b" x="627.14" y="359.7" font-size="5" text-anchor="middle">Tripleton Group</text>
<path d="M694.18 353.1V354.4" stroke="#333" stroke-width="0.6"/>
<text class="b" x="694.18" y="359.7" font-size="5" text-anchor="middle">Multiton Group</text>
<text x="372.2" y="257.6" font-size="11.2" font-weight="bold" font-family="Liberation Sans, Arial, sans-serif">F</text>
</g>
<g>
<rect x="34.37" y="506.58" width="2.26" height="2.52" fill="#1f6aa5"/>
<rect x="36.57" y="504.57" width="2.26" height="4.53" fill="#c8921b"/>
<rect x="38.78" y="505.07" width="2.26" height="4.03" fill="#e4d95b"/>
<rect x="40.99" y="505.28" width="2.26" height="3.82" fill="#cf87b5"/>
<rect x="43.2" y="504.57" width="2.26" height="4.53" fill="#69addf"/>
<rect x="45.4" y="505.58" width="2.26" height="3.52" fill="#c9641e"/>
<rect x="47.61" y="505.07" width="2.26" height="4.03" fill="#000000"/>
<rect x="49.82" y="497.02" width="2.26" height="12.08" fill="#efae97"/>
<rect x="52.02" y="505.07" width="2.26" height="4.03" fill="#78bde3"/>
<rect x="54.23" y="493" width="2.26" height="16.1" fill="#8dbab3"/>
<rect x="56.44" y="500.04" width="2.26" height="9.06" fill="#e6934a"/>
<rect x="58.65" y="504.07" width="2.26" height="5.03" fill="#f4c391"/>
<rect x="60.85" y="500.55" width="2.26" height="8.55" fill="#bb98d2"/>
<rect x="63.06" y="506.08" width="2.26" height="3.02" fill="#6ab76f"/>
<rect x="65.27" y="498.53" width="2.26" height="10.57" fill="#256ca6"/>
<rect x="67.48" y="496.32" width="2.26" height="12.78" fill="#e87f22"/>
<rect x="69.68" y="502.56" width="2.26" height="6.54" fill="#6a3f98"/>
<rect x="71.89" y="505.28" width="2.26" height="3.82" fill="#8a5a4d"/>
<path d="M35.47 507.09V506.08M37.68 506.58V502.56M39.88 506.08V504.07M42.09 506.28V504.27M44.3 507.34V501.8M46.51 507.09V504.07M48.71 507.59V502.56M50.92 501.8V491.99M53.13 506.08V504.07M55.34 498.53V487.71M57.54 505.28V495.01M59.75 506.58V501.55M61.96 503.31V497.78M64.17 507.09V505.07M66.37 504.07V493M68.58 501.85V490.78M70.79 506.08V499.04M72.99 506.79V503.77" stroke="#222" stroke-width="0.75" fill="none" opacity="1"/>
<rect x="84.03" y="504.57" width="2.26" height="4.53" fill="#1f6aa5"/>
<rect x="86.24" y="501.8" width="2.26" height="7.3" fill="#c8921b"/>
<rect x="88.45" y="504.07" width="2.26" height="5.03" fill="#e4d95b"/>
<rect x="90.65" y="505.07" width="2.26" height="4.03" fill="#cf87b5"/>
<rect x="92.86" y="505.07" width="2.26" height="4.03" fill="#69addf"/>
<rect x="95.07" y="504.07" width="2.26" height="5.03" fill="#c9641e"/>
<rect x="97.27" y="503.87" width="2.26" height="5.23" fill="#000000"/>
<rect x="99.48" y="501.55" width="2.26" height="7.55" fill="#efae97"/>
<rect x="101.69" y="505.07" width="2.26" height="4.03" fill="#78bde3"/>
<rect x="103.9" y="499.04" width="2.26" height="10.06" fill="#8dbab3"/>
<rect x="106.1" y="504.07" width="2.26" height="5.03" fill="#e6934a"/>
<rect x="108.31" y="505.07" width="2.26" height="4.03" fill="#f4c391"/>
<rect x="110.52" y="502.26" width="2.26" height="6.84" fill="#bb98d2"/>
<rect x="112.73" y="504.07" width="2.26" height="5.03" fill="#6ab76f"/>
<rect x="114.93" y="496.32" width="2.26" height="12.78" fill="#256ca6"/>
<rect x="117.14" y="500.55" width="2.26" height="8.55" fill="#e87f22"/>
<rect x="119.35" y="505.07" width="2.26" height="4.03" fill="#6a3f98"/>
<rect x="121.55" y="504.07" width="2.26" height="5.03" fill="#8a5a4d"/>
<path d="M85.13 505.07V504.07M87.34 502.81V500.8M89.55 504.57V503.56M91.76 505.58V504.57M93.96 505.58V504.57M96.17 504.57V503.56M98.38 504.37V503.36M100.59 504.07V499.04M102.79 505.58V504.57M105 500.55V497.53M107.21 505.58V502.56M109.41 505.58V504.57M111.62 503.77V500.75M113.83 504.57V503.56M116.04 497.83V494.81M118.24 502.06V499.04M120.45 506.58V503.56M122.66 505.58V502.56" stroke="#222" stroke-width="0.75" fill="none" opacity="1"/>
<rect x="133.69" y="507.59" width="2.26" height="1.51" fill="#1f6aa5"/>
<rect x="135.9" y="504.57" width="2.26" height="4.53" fill="#c8921b"/>
<rect x="138.11" y="504.07" width="2.26" height="5.03" fill="#e4d95b"/>
<rect x="140.32" y="507.34" width="2.26" height="1.76" fill="#cf87b5"/>
<rect x="142.52" y="506.58" width="2.26" height="2.52" fill="#69addf"/>
<rect x="144.73" y="508.09" width="2.26" height="1.01" fill="#c9641e"/>
<rect x="146.94" y="508.4" width="2.26" height="0.7" fill="#000000"/>
<rect x="149.15" y="500.55" width="2.26" height="8.55" fill="#efae97"/>
<rect x="151.35" y="507.34" width="2.26" height="1.76" fill="#78bde3"/>
<rect x="153.56" y="499.79" width="2.26" height="9.31" fill="#8dbab3"/>
<rect x="155.77" y="500.85" width="2.26" height="8.25" fill="#e6934a"/>
<rect x="157.98" y="506.58" width="2.26" height="2.52" fill="#f4c391"/>
<rect x="160.18" y="504.57" width="2.26" height="4.53" fill="#bb98d2"/>
<rect x="162.39" y="508.09" width="2.26" height="1.01" fill="#6ab76f"/>
<rect x="164.6" y="500.55" width="2.26" height="8.55" fill="#256ca6"/>
<rect x="166.8" y="501.15" width="2.26" height="7.95" fill="#e87f22"/>
<rect x="169.01" y="507.34" width="2.26" height="1.76" fill="#6a3f98"/>
<rect x="171.22" y="508.29" width="2.26" height="0.81" fill="#8a5a4d"/>
<path d="M134.8 508.09V507.09M137.01 506.08V503.06M139.21 505.58V502.56M141.42 507.84V506.84M143.63 507.09V506.08M145.84 508.6V507.59M148.04 508.65V508.14M150.25 501.55V499.54M152.46 507.84V506.84M154.66 501.3V498.28M156.87 503.36V498.33M159.08 507.09V506.08M161.29 506.08V503.06M163.49 508.6V507.59M165.7 503.06V498.03M167.91 503.16V499.14M170.12 507.84V506.84M172.32 508.55V508.04" stroke="#222" stroke-width="0.75" fill="none" opacity="1"/>
<rect x="183.36" y="505.93" width="2.26" height="3.17" fill="#1f6aa5"/>
<rect x="185.57" y="502.56" width="2.26" height="6.54" fill="#c8921b"/>
<rect x="187.77" y="497.73" width="2.26" height="11.37" fill="#e4d95b"/>
<rect x="189.98" y="503.21" width="2.26" height="5.89" fill="#cf87b5"/>
<rect x="192.19" y="499.79" width="2.26" height="9.31" fill="#69addf"/>
<rect x="194.4" y="504.07" width="2.26" height="5.03" fill="#c9641e"/>
<rect x="196.6" y="503.56" width="2.26" height="5.54" fill="#000000"/>
<rect x="198.81" y="488.12" width="2.26" height="20.98" fill="#efae97"/>
<rect x="201.02" y="503.87" width="2.26" height="5.23" fill="#78bde3"/>
<rect x="203.23" y="485.45" width="2.26" height="23.65" fill="#8dbab3"/>
<rect x="205.43" y="499.04" width="2.26" height="10.06" fill="#e6934a"/>
<rect x="207.64" y="502.81" width="2.26" height="6.29" fill="#f4c391"/>
<rect x="209.85" y="497.73" width="2.26" height="11.37" fill="#bb98d2"/>
<rect x="212.05" y="502.56" width="2.26" height="6.54" fill="#6ab76f"/>
<rect x="214.26" y="487.16" width="2.26" height="21.94" fill="#256ca6"/>
<rect x="216.47" y="483.44" width="2.26" height="25.66" fill="#e87f22"/>
<rect x="218.68" y="499.79" width="2.26" height="9.31" fill="#6a3f98"/>
<rect x="220.88" y="504.57" width="2.26" height="4.53" fill="#8a5a4d"/>
<path d="M184.46 506.43V505.43M186.67 503.56V501.55M188.88 499.24V496.22M191.08 503.72V502.71M193.29 500.8V498.78M195.5 505.58V502.56M197.71 505.07V502.06M199.91 490.13V486.1M202.12 504.37V503.36M204.33 488.97V481.93M206.54 500.55V497.53M208.74 504.32V501.3M210.95 498.73V496.72M213.16 503.06V502.06M215.37 488.67V485.65M217.57 486.96V479.91M219.78 501.3V498.28M221.99 506.08V503.06" stroke="#222" stroke-width="0.75" fill="none" opacity="1"/>
<rect x="233.02" y="503.21" width="2.26" height="5.89" fill="#1f6aa5"/>
<rect x="235.23" y="500.85" width="2.26" height="8.25" fill="#c8921b"/>
<rect x="237.44" y="502.26" width="2.26" height="6.84" fill="#e4d95b"/>
<rect x="239.65" y="503.21" width="2.26" height="5.89" fill="#cf87b5"/>
<rect x="241.85" y="502.56" width="2.26" height="6.54" fill="#69addf"/>
<rect x="244.06" y="500.55" width="2.26" height="8.55" fill="#c9641e"/>
<rect x="246.27" y="499.04" width="2.26" height="10.06" fill="#000000"/>
<rect x="248.47" y="447.71" width="2.26" height="61.39" fill="#efae97"/>
<rect x="250.68" y="501.15" width="2.26" height="7.95" fill="#78bde3"/>
<rect x="252.89" y="497.02" width="2.26" height="12.08" fill="#8dbab3"/>
<rect x="255.1" y="497.73" width="2.26" height="11.37" fill="#e6934a"/>
<rect x="257.3" y="500.55" width="2.26" height="8.55" fill="#f4c391"/>
<rect x="259.51" y="500.04" width="2.26" height="9.06" fill="#bb98d2"/>
<rect x="261.72" y="500.55" width="2.26" height="8.55" fill="#6ab76f"/>
<rect x="263.93" y="499.79" width="2.26" height="9.31" fill="#256ca6"/>
<rect x="266.13" y="499.54" width="2.26" height="9.56" fill="#e87f22"/>
<rect x="268.34" y="501.8" width="2.26" height="7.3" fill="#6a3f98"/>
<rect x="270.55" y="499.79" width="2.26" height="9.31" fill="#8a5a4d"/>
<path d="M234.13 504.72V501.7M236.33 502.86V498.83M238.54 503.77V500.75M240.75 504.72V501.7M242.96 504.07V501.05M245.16 502.56V498.53M247.37 501.55V496.52M249.58 453.75V440.77M251.79 503.16V499.14M253.99 498.53V495.51M256.2 499.74V495.71M258.41 502.56V498.53M260.61 501.55V498.53M262.82 502.06V499.04M265.03 501.8V497.78M267.24 501.55V497.53M269.44 503.31V500.29M271.65 501.8V497.78" stroke="#222" stroke-width="0.75" fill="none" opacity="1"/>
<rect x="282.69" y="506.89" width="2.26" height="2.21" fill="#1f6aa5"/>
<rect x="284.9" y="504.57" width="2.26" height="4.53" fill="#c8921b"/>
<rect x="287.1" y="503.87" width="2.26" height="5.23" fill="#e4d95b"/>
<rect x="289.31" y="505.07" width="2.26" height="4.03" fill="#cf87b5"/>
<rect x="291.52" y="504.07" width="2.26" height="5.03" fill="#69addf"/>
<rect x="293.72" y="506.33" width="2.26" height="2.77" fill="#c9641e"/>
<rect x="295.93" y="505.93" width="2.26" height="3.17" fill="#000000"/>
<rect x="298.14" y="499.04" width="2.26" height="10.06" fill="#efae97"/>
<rect x="300.35" y="505.93" width="2.26" height="3.17" fill="#78bde3"/>
<rect x="302.55" y="494" width="2.26" height="15.1" fill="#8dbab3"/>
<rect x="304.76" y="503.87" width="2.26" height="5.23" fill="#e6934a"/>
<rect x="306.97" y="505.93" width="2.26" height="3.17" fill="#f4c391"/>
<rect x="309.18" y="500.85" width="2.26" height="8.25" fill="#bb98d2"/>
<rect x="311.38" y="506.33" width="2.26" height="2.77" fill="#6ab76f"/>
<rect x="313.59" y="497.02" width="2.26" height="12.08" fill="#256ca6"/>
<rect x="315.8" y="500.55" width="2.26" height="8.55" fill="#e87f22"/>
<rect x="318" y="503.56" width="2.26" height="5.54" fill="#6a3f98"/>
<rect x="320.21" y="506.58" width="2.26" height="2.52" fill="#8a5a4d"/>
<path d="M283.79 507.39V506.38M286 505.07V504.07M288.21 504.37V503.36M290.41 505.58V504.57M292.62 505.07V503.06M294.83 506.84V505.83M297.04 506.43V505.43M299.24 500.55V497.53M301.45 506.43V505.43M303.66 495.51V492.49M305.86 505.88V501.85M308.07 506.43V505.43M310.28 501.85V499.84M312.49 506.84V505.83M314.69 498.53V495.51M316.9 502.06V499.04M319.11 504.07V503.06M321.32 507.09V506.08" stroke="#222" stroke-width="0.75" fill="none" opacity="1"/>
<rect x="332.35" y="505.58" width="2.26" height="3.52" fill="#1f6aa5"/>
<rect x="334.56" y="502.56" width="2.26" height="6.54" fill="#c8921b"/>
<rect x="336.77" y="498.38" width="2.26" height="10.72" fill="#e4d95b"/>
<rect x="338.97" y="503.87" width="2.26" height="5.23" fill="#cf87b5"/>
<rect x="341.18" y="500.85" width="2.26" height="8.25" fill="#69addf"/>
<rect x="343.39" y="505.07" width="2.26" height="4.03" fill="#c9641e"/>
<rect x="345.6" y="504.07" width="2.26" height="5.03" fill="#000000"/>
<rect x="347.8" y="487.46" width="2.26" height="21.64" fill="#efae97"/>
<rect x="350.01" y="503.56" width="2.26" height="5.54" fill="#78bde3"/>
<rect x="352.22" y="482.63" width="2.26" height="26.47" fill="#8dbab3"/>
<rect x="354.43" y="497.02" width="2.26" height="12.08" fill="#e6934a"/>
<rect x="356.63" y="503.21" width="2.26" height="5.89" fill="#f4c391"/>
<rect x="358.84" y="497.02" width="2.26" height="12.08" fill="#bb98d2"/>
<rect x="361.05" y="503.87" width="2.26" height="5.23" fill="#6ab76f"/>
<rect x="363.25" y="488.82" width="2.26" height="20.28" fill="#256ca6"/>
<rect x="365.46" y="476.19" width="2.26" height="32.91" fill="#e87f22"/>
<rect x="367.67" y="500.55" width="2.26" height="8.55" fill="#6a3f98"/>
<rect x="369.88" y="505.28" width="2.26" height="3.82" fill="#8a5a4d"/>
<path d="M333.46 506.58V504.57M335.66 505.07V500.04M337.87 501.9V494.86M340.08 505.38V502.36M342.29 503.36V498.33M344.49 508.09V502.06M346.7 507.09V501.05M348.91 497.53V477.4M351.11 506.58V500.55M353.32 491.94V473.32M355.53 502.06V491.99M357.74 508.24V498.18M359.94 502.56V491.49M362.15 505.88V501.85M364.36 495.21V482.43M366.57 480.22V472.17M368.77 504.07V497.02M370.98 507.29V503.26" stroke="#222" stroke-width="0.75" fill="none" opacity="1"/>
<rect x="382.02" y="505.93" width="2.26" height="3.17" fill="#1f6aa5"/>
<rect x="384.22" y="504.57" width="2.26" height="4.53" fill="#c8921b"/>
<rect x="386.43" y="502.26" width="2.26" height="6.84" fill="#e4d95b"/>
<rect x="388.64" y="505.58" width="2.26" height="3.52" fill="#cf87b5"/>
<rect x="390.85" y="503.87" width="2.26" height="5.23" fill="#69addf"/>
<rect x="393.05" y="505.93" width="2.26" height="3.17" fill="#c9641e"/>
<rect x="395.26" y="505.07" width="2.26" height="4.03" fill="#000000"/>
<rect x="397.47" y="497.73" width="2.26" height="11.37" fill="#efae97"/>
<rect x="399.67" y="505.93" width="2.26" height="3.17" fill="#78bde3"/>
<rect x="401.88" y="493" width="2.26" height="16.1" fill="#8dbab3"/>
<rect x="404.09" y="503.21" width="2.26" height="5.89" fill="#e6934a"/>
<rect x="406.3" y="506.58" width="2.26" height="2.52" fill="#f4c391"/>
<rect x="408.5" y="502.26" width="2.26" height="6.84" fill="#bb98d2"/>
<rect x="410.71" y="505.28" width="2.26" height="3.82" fill="#6ab76f"/>
<rect x="412.92" y="497.33" width="2.26" height="11.77" fill="#256ca6"/>
<rect x="415.13" y="497.02" width="2.26" height="12.08" fill="#e87f22"/>
<rect x="417.33" y="501.8" width="2.26" height="7.3" fill="#6a3f98"/>
<rect x="419.54" y="506.33" width="2.26" height="2.77" fill="#8a5a4d"/>
<path d="M383.12 506.43V505.43M385.33 505.07V504.07M387.53 503.26V501.25M389.74 506.08V505.07M391.95 504.37V503.36M394.16 506.43V505.43M396.36 505.58V504.57M398.57 499.74V495.71M400.78 506.43V505.43M402.99 494.51V491.49M405.19 504.72V501.7M407.4 507.09V506.08M409.61 503.77V500.75M411.82 505.78V504.77M414.02 498.33V496.32M416.23 498.53V495.51M418.44 503.31V500.29M420.64 506.84V505.83" stroke="#222" stroke-width="0.75" fill="none" opacity="1"/>
<rect x="431.68" y="504.57" width="2.26" height="4.53" fill="#1f6aa5"/>
<rect x="433.89" y="499.04" width="2.26" height="10.06" fill="#c8921b"/>
<rect x="436.1" y="488.12" width="2.26" height="20.98" fill="#e4d95b"/>
<rect x="438.3" y="499.79" width="2.26" height="9.31" fill="#cf87b5"/>
<rect x="440.51" y="492.24" width="2.26" height="16.86" fill="#69addf"/>
<rect x="442.72" y="503.21" width="2.26" height="5.89" fill="#c9641e"/>
<rect x="444.92" y="503.21" width="2.26" height="5.89" fill="#000000"/>
<rect x="447.13" y="466.83" width="2.26" height="42.27" fill="#efae97"/>
<rect x="449.34" y="500.55" width="2.26" height="8.55" fill="#78bde3"/>
<rect x="451.55" y="461.65" width="2.26" height="47.45" fill="#8dbab3"/>
<rect x="453.75" y="481.93" width="2.26" height="27.17" fill="#e6934a"/>
<rect x="455.96" y="499.79" width="2.26" height="9.31" fill="#f4c391"/>
<rect x="458.17" y="488.47" width="2.26" height="20.63" fill="#bb98d2"/>
<rect x="460.38" y="500.85" width="2.26" height="8.25" fill="#6ab76f"/>
<rect x="462.58" y="464.82" width="2.26" height="44.28" fill="#256ca6"/>
<rect x="464.79" y="456.57" width="2.26" height="52.53" fill="#e87f22"/>
<rect x="467" y="498.38" width="2.26" height="10.72" fill="#6a3f98"/>
<rect x="469.2" y="504.57" width="2.26" height="4.53" fill="#8a5a4d"/>
<path d="M432.78 505.58V503.56M434.99 501.55V496.52M437.2 490.13V486.1M439.41 504.82V494.76M441.61 493.75V490.73M443.82 504.72V501.7M446.03 504.72V501.7M448.24 480.42V453.24M450.44 503.06V498.03M452.65 476.74V446.55M454.86 497.53V466.33M457.06 502.31V497.27M459.27 491.49V485.45M461.48 502.36V499.34M463.69 469.6V460.04M465.89 461.09V452.04M468.1 500.39V496.37M470.31 506.08V503.06" stroke="#222" stroke-width="0.75" fill="none" opacity="1"/>
<rect x="481.35" y="505.28" width="2.26" height="3.82" fill="#1f6aa5"/>
<rect x="483.55" y="503.21" width="2.26" height="5.89" fill="#c8921b"/>
<rect x="485.76" y="501.15" width="2.26" height="7.95" fill="#e4d95b"/>
<rect x="487.97" y="504.07" width="2.26" height="5.03" fill="#cf87b5"/>
<rect x="490.17" y="503.21" width="2.26" height="5.89" fill="#69addf"/>
<rect x="492.38" y="505.07" width="2.26" height="4.03" fill="#c9641e"/>
<rect x="494.59" y="504.07" width="2.26" height="5.03" fill="#000000"/>
<rect x="496.8" y="495.66" width="2.26" height="13.44" fill="#efae97"/>
<rect x="499" y="505.07" width="2.26" height="4.03" fill="#78bde3"/>
<rect x="501.21" y="492.24" width="2.26" height="16.86" fill="#8dbab3"/>
<rect x="503.42" y="499.79" width="2.26" height="9.31" fill="#e6934a"/>
<rect x="505.63" y="504.57" width="2.26" height="4.53" fill="#f4c391"/>
<rect x="507.83" y="498.38" width="2.26" height="10.72" fill="#bb98d2"/>
<rect x="510.04" y="505.07" width="2.26" height="4.03" fill="#6ab76f"/>
<rect x="512.25" y="493.5" width="2.26" height="15.6" fill="#256ca6"/>
<rect x="514.45" y="495.66" width="2.26" height="13.44" fill="#e87f22"/>
<rect x="516.66" y="502.81" width="2.26" height="6.29" fill="#6a3f98"/>
<rect x="518.87" y="505.07" width="2.26" height="4.03" fill="#8a5a4d"/>
<path d="M482.45 506.79V503.77M484.66 505.23V501.2M486.86 504.17V498.13M489.07 505.58V502.56M491.28 505.23V501.2M493.49 506.58V503.56M495.69 506.08V502.06M497.9 498.68V492.65M500.11 507.09V503.06M502.31 495.77V488.72M504.52 503.31V496.27M506.73 507.09V502.06M508.94 500.39V496.37M511.14 506.58V503.56M513.35 496.27V490.73M515.56 499.19V492.14M517.77 504.82V500.8M519.97 506.58V503.56" stroke="#222" stroke-width="0.75" fill="none" opacity="1"/>
<rect x="531.01" y="505.93" width="2.26" height="3.17" fill="#1f6aa5"/>
<rect x="533.22" y="503.87" width="2.26" height="5.23" fill="#c8921b"/>
<rect x="535.42" y="502.56" width="2.26" height="6.54" fill="#e4d95b"/>
<rect x="537.63" y="504.57" width="2.26" height="4.53" fill="#cf87b5"/>
<rect x="539.84" y="503.21" width="2.26" height="5.89" fill="#69addf"/>
<rect x="542.05" y="505.07" width="2.26" height="4.03" fill="#c9641e"/>
<rect x="544.25" y="503.21" width="2.26" height="5.89" fill="#000000"/>
<rect x="546.46" y="495.66" width="2.26" height="13.44" fill="#efae97"/>
<rect x="548.67" y="504.57" width="2.26" height="4.53" fill="#78bde3"/>
<rect x="550.88" y="492.24" width="2.26" height="16.86" fill="#8dbab3"/>
<rect x="553.08" y="502.26" width="2.26" height="6.84" fill="#e6934a"/>
<rect x="555.29" y="505.07" width="2.26" height="4.03" fill="#f4c391"/>
<rect x="557.5" y="500.55" width="2.26" height="8.55" fill="#bb98d2"/>
<rect x="559.7" y="503.87" width="2.26" height="5.23" fill="#6ab76f"/>
<rect x="561.91" y="495.66" width="2.26" height="13.44" fill="#256ca6"/>
<rect x="564.12" y="497.73" width="2.26" height="11.37" fill="#e87f22"/>
<rect x="566.33" y="501.4" width="2.26" height="7.7" fill="#6a3f98"/>
<rect x="568.53" y="505.93" width="2.26" height="3.17" fill="#8a5a4d"/>
<path d="M532.11 506.43V505.43M534.32 504.87V502.86M536.53 504.07V501.05M538.73 505.07V504.07M540.94 504.22V502.21M543.15 505.58V504.57M545.36 503.72V502.71M547.56 498.18V493.15M549.77 505.07V504.07M551.98 493.75V490.73M554.19 503.77V500.75M556.39 505.58V504.57M558.6 502.06V499.04M560.81 504.37V503.36M563.02 497.17V494.15M565.22 499.74V495.71M567.43 502.91V499.89M569.64 506.43V505.43" stroke="#222" stroke-width="0.75" fill="none" opacity="1"/>
<rect x="580.67" y="505.93" width="2.26" height="3.17" fill="#1f6aa5"/>
<rect x="582.88" y="502.26" width="2.26" height="6.84" fill="#c8921b"/>
<rect x="585.09" y="499.54" width="2.26" height="9.56" fill="#e4d95b"/>
<rect x="587.3" y="504.07" width="2.26" height="5.03" fill="#cf87b5"/>
<rect x="589.5" y="501.8" width="2.26" height="7.3" fill="#69addf"/>
<rect x="591.71" y="505.28" width="2.26" height="3.82" fill="#c9641e"/>
<rect x="593.92" y="505.07" width="2.26" height="4.03" fill="#000000"/>
<rect x="596.12" y="493.5" width="2.26" height="15.6" fill="#efae97"/>
<rect x="598.33" y="505.28" width="2.26" height="3.82" fill="#78bde3"/>
<rect x="600.54" y="491.29" width="2.26" height="17.81" fill="#8dbab3"/>
<rect x="602.75" y="501.15" width="2.26" height="7.95" fill="#e6934a"/>
<rect x="604.95" y="503.56" width="2.26" height="5.54" fill="#f4c391"/>
<rect x="607.16" y="499.54" width="2.26" height="9.56" fill="#bb98d2"/>
<rect x="609.37" y="505.07" width="2.26" height="4.03" fill="#6ab76f"/>
<rect x="611.58" y="493.5" width="2.26" height="15.6" fill="#256ca6"/>
<rect x="613.78" y="494.71" width="2.26" height="14.39" fill="#e87f22"/>
<rect x="615.99" y="502.81" width="2.26" height="6.29" fill="#6a3f98"/>
<rect x="618.2" y="505.58" width="2.26" height="3.52" fill="#8a5a4d"/>
<path d="M581.78 506.43V505.43M583.98 503.26V501.25M586.19 501.05V498.03M588.4 504.57V503.56M590.61 503.31V500.29M592.81 505.78V504.77M595.02 505.58V504.57M597.23 495.01V491.99M599.44 505.78V504.77M601.64 493.3V489.27M603.85 502.66V499.64M606.06 504.07V503.06M608.26 501.05V498.03M610.47 505.58V504.57M612.68 495.01V491.99M614.89 496.72V492.7M617.09 503.31V502.31M619.3 506.08V505.07" stroke="#222" stroke-width="0.75" fill="none" opacity="1"/>
<rect x="630.34" y="505.93" width="2.26" height="3.17" fill="#1f6aa5"/>
<rect x="632.55" y="503.87" width="2.26" height="5.23" fill="#c8921b"/>
<rect x="634.75" y="503.87" width="2.26" height="5.23" fill="#e4d95b"/>
<rect x="636.96" y="504.57" width="2.26" height="4.53" fill="#cf87b5"/>
<rect x="639.17" y="505.07" width="2.26" height="4.03" fill="#69addf"/>
<rect x="641.37" y="504.57" width="2.26" height="4.53" fill="#c9641e"/>
<rect x="643.58" y="505.07" width="2.26" height="4.03" fill="#000000"/>
<rect x="645.79" y="499.04" width="2.26" height="10.06" fill="#efae97"/>
<rect x="648" y="505.07" width="2.26" height="4.03" fill="#78bde3"/>
<rect x="650.2" y="493.2" width="2.26" height="15.9" fill="#8dbab3"/>
<rect x="652.41" y="503.87" width="2.26" height="5.23" fill="#e6934a"/>
<rect x="654.62" y="504.57" width="2.26" height="4.53" fill="#f4c391"/>
<rect x="656.83" y="500.85" width="2.26" height="8.25" fill="#bb98d2"/>
<rect x="659.03" y="505.28" width="2.26" height="3.82" fill="#6ab76f"/>
<rect x="661.24" y="499.04" width="2.26" height="10.06" fill="#256ca6"/>
<rect x="663.45" y="499.54" width="2.26" height="9.56" fill="#e87f22"/>
<rect x="665.65" y="503.56" width="2.26" height="5.54" fill="#6a3f98"/>
<rect x="667.86" y="505.07" width="2.26" height="4.03" fill="#8a5a4d"/>
<path d="M631.44 506.43V505.43M633.65 505.38V502.36M635.86 505.38V502.36M638.06 505.07V504.07M640.27 505.58V504.57M642.48 505.58V503.56M644.69 506.58V503.56M646.89 500.55V497.53M649.1 505.58V504.57M651.31 494.71V491.69M653.51 505.38V502.36M655.72 506.08V503.06M657.93 502.36V499.34M660.14 505.78V504.77M662.34 500.55V497.53M664.55 501.05V498.03M666.76 504.57V502.56M668.97 506.58V503.56" stroke="#222" stroke-width="0.75" fill="none" opacity="1"/>
<rect x="680" y="507.74" width="2.26" height="1.36" fill="#1f6aa5"/>
<rect x="682.21" y="505.28" width="2.26" height="3.82" fill="#c8921b"/>
<rect x="684.42" y="504.57" width="2.26" height="4.53" fill="#e4d95b"/>
<rect x="686.62" y="506.89" width="2.26" height="2.21" fill="#cf87b5"/>
<rect x="688.83" y="505.07" width="2.26" height="4.03" fill="#69addf"/>
<rect x="691.04" y="507.34" width="2.26" height="1.76" fill="#c9641e"/>
<rect x="693.25" y="507.74" width="2.26" height="1.36" fill="#000000"/>
<rect x="695.45" y="499.79" width="2.26" height="9.31" fill="#efae97"/>
<rect x="697.66" y="507.74" width="2.26" height="1.36" fill="#78bde3"/>
<rect x="699.87" y="497.02" width="2.26" height="12.08" fill="#8dbab3"/>
<rect x="702.08" y="506.33" width="2.26" height="2.77" fill="#e6934a"/>
<rect x="704.28" y="506.58" width="2.26" height="2.52" fill="#f4c391"/>
<rect x="706.49" y="503.56" width="2.26" height="5.54" fill="#bb98d2"/>
<rect x="708.7" y="507.34" width="2.26" height="1.76" fill="#6ab76f"/>
<rect x="710.9" y="497.02" width="2.26" height="12.08" fill="#256ca6"/>
<rect x="713.11" y="498.68" width="2.26" height="10.42" fill="#e87f22"/>
<rect x="715.32" y="505.93" width="2.26" height="3.17" fill="#6a3f98"/>
<rect x="717.53" y="507.34" width="2.26" height="1.76" fill="#8a5a4d"/>
<path d="M681.11 507.99V507.49M683.31 506.28V504.27M685.52 505.58V503.56M687.73 507.39V506.38M689.94 506.08V504.07M692.14 507.84V506.84M694.35 507.99V507.49M696.56 500.8V498.78M698.76 507.99V507.49M700.97 498.03V496.02M703.18 506.84V505.83M705.39 507.09V506.08M707.59 504.57V502.56M709.8 507.84V506.84M712.01 498.53V495.51M714.22 500.19V497.17M716.42 506.43V505.43M718.63 507.84V506.84" stroke="#222" stroke-width="0.75" fill="none" opacity="1"/>
<rect x="29.4" y="437.2" width="695.3" height="71.9" fill="none" stroke="#8f8781" stroke-width="0.8"/>
<path d="M29 437.2H725.1" stroke="#b3aca7" stroke-width="1.5"/>
<path d="M27.9 509.1H29.4" stroke="#333" stroke-width="0.6"/>
<text class="b" x="27" y="510.94" font-size="5.1" text-anchor="end">0.000</text>
<path d="M27.9 496.52H29.4" stroke="#333" stroke-width="0.6"/>
<text class="b" x="27" y="498.36" font-size="5.1" text-anchor="end">0.025</text>
<path d="M27.9 483.94H29.4" stroke="#333" stroke-width="0.6"/>
<text class="b" x="27" y="485.78" font-size="5.1" text-anchor="end">0.050</text>
<path d="M27.9 471.36H29.4" stroke="#333" stroke-width="0.6"/>
<text class="b" x="27" y="473.2" font-size="5.1" text-anchor="end">0.075</text>
<path d="M27.9 458.78H29.4" stroke="#333" stroke-width="0.6"/>
<text class="b" x="27" y="460.62" font-size="5.1" text-anchor="end">0.100</text>
<path d="M27.9 446.2H29.4" stroke="#333" stroke-width="0.6"/>
<text class="b" x="27" y="448.04" font-size="5.1" text-anchor="end">0.125</text>
<text transform="translate(9.5 473.15) rotate(-90)" font-size="6.9" text-anchor="middle">JSD</text>
<text x="377.05" y="434.9" font-size="10" text-anchor="middle">seqFISH</text>
<path d="M54.23 509.1V510.5" stroke="#333" stroke-width="0.6"/>
<text class="c" transform="translate(54.23 531.85) rotate(-24.5)" font-size="6.7" text-anchor="middle" dy="1.81">Lateral plate mesoderm</text>
<path d="M103.9 509.1V510.5" stroke="#333" stroke-width="0.6"/>
<text class="c" transform="translate(103.9 523.97) rotate(-24.5)" font-size="6.7" text-anchor="middle" dy="1.81">Endothelium</text>
<path d="M153.56 509.1V510.5" stroke="#333" stroke-width="0.6"/>
<text class="c" transform="translate(153.56 521.55) rotate(-24.5)" font-size="6.7" text-anchor="middle" dy="1.81">Erythroid</text>
<path d="M203.23 509.1V510.5" stroke="#333" stroke-width="0.6"/>
<text class="c" transform="translate(203.23 521.3) rotate(-24.5)" font-size="6.7" text-anchor="middle" dy="1.81">Gut tube</text>
<path d="M252.89 509.1V510.5" stroke="#333" stroke-width="0.6"/>
<text class="c" transform="translate(252.89 537.71) rotate(-24.5)" font-size="6.7" text-anchor="middle" dy="1.81">Haematoendothelial progenitors</text>
<path d="M302.55 509.1V510.5" stroke="#333" stroke-width="0.6"/>
<text class="c" transform="translate(302.55 537.32) rotate(-24.5)" font-size="6.7" text-anchor="middle" dy="1.81">Mixed mesenchymal mesoderm</text>
<path d="M352.22 509.1V510.5" stroke="#333" stroke-width="0.6"/>
<text class="c" transform="translate(352.22 522.95) rotate(-24.5)" font-size="6.7" text-anchor="middle" dy="1.81">Spinal cord</text>
<path d="M401.88 509.1V510.5" stroke="#333" stroke-width="0.6"/>
<text class="c" transform="translate(401.88 523.65) rotate(-24.5)" font-size="6.7" text-anchor="middle" dy="1.81">Neural crest</text>
<path d="M451.55 509.1V510.5" stroke="#333" stroke-width="0.6"/>
<text class="c" transform="translate(451.55 535.5) rotate(-24.5)" font-size="6.7" text-anchor="middle" dy="1.81">Forebrain/Midbrain/Hindbrain</text>
<path d="M501.21 509.1V510.5" stroke="#333" stroke-width="0.6"/>
<text class="c" transform="translate(501.21 527.95) rotate(-24.5)" font-size="6.7" text-anchor="middle" dy="1.81">Cranial mesoderm</text>
<path d="M550.88 509.1V510.5" stroke="#333" stroke-width="0.6"/>
<text class="c" transform="translate(550.88 527.58) rotate(-24.5)" font-size="6.7" text-anchor="middle" dy="1.81">Surface ectoderm</text>
<path d="M600.54 509.1V510.5" stroke="#333" stroke-width="0.6"/>
<text class="c" transform="translate(600.54 530.61) rotate(-24.5)" font-size="6.7" text-anchor="middle" dy="1.81">Splanchnic mesoderm</text>
<path d="M650.2 509.1V510.5" stroke="#333" stroke-width="0.6"/>
<text class="c" transform="translate(650.2 526.5) rotate(-24.5)" font-size="6.7" text-anchor="middle" dy="1.81">Dermomyotome</text>
<path d="M699.87 509.1V510.5" stroke="#333" stroke-width="0.6"/>
<text class="c" transform="translate(699.87 526.42) rotate(-24.5)" font-size="6.7" text-anchor="middle" dy="1.81">Cardiomyocytes</text>
<text x="8.8" y="434.8" font-size="11.2" font-weight="bold" font-family="Liberation Sans, Arial, sans-serif">G</text>
</g>
<g>
<rect x="32.02" y="666.08" width="3.17" height="1.42" fill="#1f6aa5"/>
<rect x="35.13" y="666.08" width="3.17" height="1.42" fill="#c8921b"/>
<rect x="38.25" y="662.51" width="3.17" height="4.99" fill="#e4d95b"/>
<rect x="41.37" y="631.49" width="3.17" height="36.01" fill="#cf87b5"/>
<rect x="44.49" y="665.63" width="3.17" height="1.87" fill="#69addf"/>
<rect x="47.6" y="665.88" width="3.17" height="1.62" fill="#c9641e"/>
<rect x="50.72" y="665.27" width="3.17" height="2.23" fill="#000000"/>
<rect x="53.84" y="648.34" width="3.17" height="19.16" fill="#efae97"/>
<rect x="56.96" y="659.5" width="3.17" height="8" fill="#78bde3"/>
<rect x="60.08" y="655.64" width="3.17" height="11.86" fill="#8dbab3"/>
<rect x="63.19" y="649.23" width="3.17" height="18.27" fill="#e6934a"/>
<rect x="66.31" y="665.47" width="3.17" height="2.03" fill="#f4c391"/>
<rect x="69.43" y="665.63" width="3.17" height="1.87" fill="#bb98d2"/>
<rect x="72.55" y="658.65" width="3.17" height="8.85" fill="#6ab76f"/>
<rect x="75.66" y="656.66" width="3.17" height="10.84" fill="#256ca6"/>
<rect x="78.78" y="648.34" width="3.17" height="19.16" fill="#e87f22"/>
<rect x="81.9" y="655.64" width="3.17" height="11.86" fill="#6a3f98"/>
<rect x="85.02" y="666.61" width="3.17" height="0.89" fill="#8a5a4d"/>
<rect x="102.17" y="665.63" width="3.17" height="1.87" fill="#1f6aa5"/>
<rect x="105.28" y="664.5" width="3.17" height="3" fill="#c8921b"/>
<rect x="108.4" y="652.32" width="3.17" height="15.18" fill="#e4d95b"/>
<rect x="111.52" y="619.51" width="3.17" height="47.99" fill="#cf87b5"/>
<rect x="114.64" y="650.12" width="3.17" height="17.38" fill="#69addf"/>
<rect x="117.75" y="665.47" width="3.17" height="2.03" fill="#c9641e"/>
<rect x="120.87" y="658.97" width="3.17" height="8.53" fill="#000000"/>
<rect x="123.99" y="640.34" width="3.17" height="27.16" fill="#efae97"/>
<rect x="127.11" y="663.6" width="3.17" height="3.9" fill="#78bde3"/>
<rect x="130.23" y="654.43" width="3.17" height="13.07" fill="#8dbab3"/>
<rect x="133.34" y="643.34" width="3.17" height="24.16" fill="#e6934a"/>
<rect x="136.46" y="661.17" width="3.17" height="6.33" fill="#f4c391"/>
<rect x="139.58" y="661.41" width="3.17" height="6.09" fill="#bb98d2"/>
<rect x="142.7" y="646.67" width="3.17" height="20.83" fill="#6ab76f"/>
<rect x="145.81" y="623.16" width="3.17" height="44.34" fill="#256ca6"/>
<rect x="148.93" y="628.93" width="3.17" height="38.57" fill="#e87f22"/>
<rect x="152.05" y="658.28" width="3.17" height="9.22" fill="#6a3f98"/>
<rect x="155.17" y="665.63" width="3.17" height="1.87" fill="#8a5a4d"/>
<rect x="172.31" y="664.74" width="3.17" height="2.76" fill="#1f6aa5"/>
<rect x="175.43" y="664.17" width="3.17" height="3.33" fill="#c8921b"/>
<rect x="178.55" y="653.66" width="3.17" height="13.84" fill="#e4d95b"/>
<rect x="181.67" y="631.49" width="3.17" height="36.01" fill="#cf87b5"/>
<rect x="184.79" y="660.64" width="3.17" height="6.86" fill="#69addf"/>
<rect x="187.9" y="664.41" width="3.17" height="3.09" fill="#c9641e"/>
<rect x="191.02" y="658.08" width="3.17" height="9.42" fill="#000000"/>
<rect x="194.14" y="608.55" width="3.17" height="58.95" fill="#efae97"/>
<rect x="197.26" y="661.61" width="3.17" height="5.89" fill="#78bde3"/>
<rect x="200.38" y="656.42" width="3.17" height="11.08" fill="#8dbab3"/>
<rect x="203.49" y="651.42" width="3.17" height="16.08" fill="#e6934a"/>
<rect x="206.61" y="661.41" width="3.17" height="6.09" fill="#f4c391"/>
<rect x="209.73" y="660.52" width="3.17" height="6.98" fill="#bb98d2"/>
<rect x="212.85" y="652.56" width="3.17" height="14.94" fill="#6ab76f"/>
<rect x="215.96" y="641.48" width="3.17" height="26.02" fill="#256ca6"/>
<rect x="219.08" y="629.25" width="3.17" height="38.25" fill="#e87f22"/>
<rect x="222.2" y="659.42" width="3.17" height="8.08" fill="#6a3f98"/>
<rect x="225.32" y="664.5" width="3.17" height="3" fill="#8a5a4d"/>
<rect x="242.47" y="666.61" width="3.17" height="0.89" fill="#1f6aa5"/>
<rect x="245.58" y="664.17" width="3.17" height="3.33" fill="#c8921b"/>
<rect x="248.7" y="652.56" width="3.17" height="14.94" fill="#e4d95b"/>
<rect x="251.82" y="588.82" width="3.17" height="78.68" fill="#cf87b5"/>
<rect x="254.94" y="650.65" width="3.17" height="16.85" fill="#69addf"/>
<rect x="258.05" y="664.74" width="3.17" height="2.76" fill="#c9641e"/>
<rect x="261.17" y="663.28" width="3.17" height="4.22" fill="#000000"/>
<rect x="264.29" y="594.58" width="3.17" height="72.92" fill="#efae97"/>
<rect x="267.41" y="660.52" width="3.17" height="6.98" fill="#78bde3"/>
<rect x="270.53" y="651.42" width="3.17" height="16.08" fill="#8dbab3"/>
<rect x="273.64" y="610.98" width="3.17" height="56.52" fill="#e6934a"/>
<rect x="276.76" y="663.97" width="3.17" height="3.53" fill="#f4c391"/>
<rect x="279.88" y="664.17" width="3.17" height="3.33" fill="#bb98d2"/>
<rect x="283" y="620.97" width="3.17" height="46.53" fill="#6ab76f"/>
<rect x="286.11" y="606.88" width="3.17" height="60.62" fill="#256ca6"/>
<rect x="289.23" y="587.72" width="3.17" height="79.78" fill="#e87f22"/>
<rect x="292.35" y="644.76" width="3.17" height="22.74" fill="#6a3f98"/>
<rect x="295.47" y="664.94" width="3.17" height="2.56" fill="#8a5a4d"/>
<rect x="312.62" y="661.61" width="3.17" height="5.89" fill="#1f6aa5"/>
<rect x="315.73" y="658.65" width="3.17" height="8.85" fill="#c8921b"/>
<rect x="318.85" y="651.67" width="3.17" height="15.83" fill="#e4d95b"/>
<rect x="321.97" y="606.56" width="3.17" height="60.94" fill="#cf87b5"/>
<rect x="325.09" y="659.5" width="3.17" height="8" fill="#69addf"/>
<rect x="328.2" y="651.67" width="3.17" height="15.83" fill="#c9641e"/>
<rect x="331.32" y="652.56" width="3.17" height="14.94" fill="#000000"/>
<rect x="334.44" y="614.31" width="3.17" height="53.19" fill="#efae97"/>
<rect x="337.56" y="631.49" width="3.17" height="36.01" fill="#78bde3"/>
<rect x="340.68" y="624.3" width="3.17" height="43.2" fill="#8dbab3"/>
<rect x="343.79" y="616.3" width="3.17" height="51.2" fill="#e6934a"/>
<rect x="346.91" y="659.75" width="3.17" height="7.75" fill="#f4c391"/>
<rect x="350.03" y="658.65" width="3.17" height="8.85" fill="#bb98d2"/>
<rect x="353.15" y="645.58" width="3.17" height="21.92" fill="#6ab76f"/>
<rect x="356.26" y="642.25" width="3.17" height="25.25" fill="#256ca6"/>
<rect x="359.38" y="630.07" width="3.17" height="37.43" fill="#e87f22"/>
<rect x="362.5" y="654.18" width="3.17" height="13.32" fill="#6a3f98"/>
<rect x="365.62" y="653.66" width="3.17" height="13.84" fill="#8a5a4d"/>
<rect x="382.76" y="664.74" width="3.17" height="2.76" fill="#1f6aa5"/>
<rect x="385.88" y="661.61" width="3.17" height="5.89" fill="#c8921b"/>
<rect x="389" y="660.52" width="3.17" height="6.98" fill="#e4d95b"/>
<rect x="392.12" y="647.57" width="3.17" height="19.93" fill="#cf87b5"/>
<rect x="395.24" y="664.17" width="3.17" height="3.33" fill="#69addf"/>
<rect x="398.35" y="663.4" width="3.17" height="4.1" fill="#c9641e"/>
<rect x="401.47" y="662.75" width="3.17" height="4.75" fill="#000000"/>
<rect x="404.59" y="656.66" width="3.17" height="10.84" fill="#efae97"/>
<rect x="407.71" y="656.66" width="3.17" height="10.84" fill="#78bde3"/>
<rect x="410.82" y="646.43" width="3.17" height="21.07" fill="#8dbab3"/>
<rect x="413.94" y="661.61" width="3.17" height="5.89" fill="#e6934a"/>
<rect x="417.06" y="664.74" width="3.17" height="2.76" fill="#f4c391"/>
<rect x="420.18" y="663.28" width="3.17" height="4.22" fill="#bb98d2"/>
<rect x="423.3" y="664.17" width="3.17" height="3.33" fill="#6ab76f"/>
<rect x="426.41" y="656.42" width="3.17" height="11.08" fill="#256ca6"/>
<rect x="429.53" y="648.86" width="3.17" height="18.64" fill="#e87f22"/>
<rect x="432.65" y="660.64" width="3.17" height="6.86" fill="#6a3f98"/>
<rect x="435.77" y="664.74" width="3.17" height="2.76" fill="#8a5a4d"/>
<rect x="452.92" y="664.94" width="3.17" height="2.56" fill="#1f6aa5"/>
<rect x="456.03" y="662.51" width="3.17" height="4.99" fill="#c8921b"/>
<rect x="459.15" y="663.07" width="3.17" height="4.43" fill="#e4d95b"/>
<rect x="462.27" y="644.44" width="3.17" height="23.06" fill="#cf87b5"/>
<rect x="465.39" y="661.17" width="3.17" height="6.33" fill="#69addf"/>
<rect x="468.5" y="664.17" width="3.17" height="3.33" fill="#c9641e"/>
<rect x="471.62" y="664.74" width="3.17" height="2.76" fill="#000000"/>
<rect x="474.74" y="642.57" width="3.17" height="24.93" fill="#efae97"/>
<rect x="477.86" y="651.99" width="3.17" height="15.51" fill="#78bde3"/>
<rect x="480.98" y="649.43" width="3.17" height="18.07" fill="#8dbab3"/>
<rect x="484.09" y="647.57" width="3.17" height="19.93" fill="#e6934a"/>
<rect x="487.21" y="663.85" width="3.17" height="3.65" fill="#f4c391"/>
<rect x="490.33" y="664.5" width="3.17" height="3" fill="#bb98d2"/>
<rect x="493.45" y="662.75" width="3.17" height="4.75" fill="#6ab76f"/>
<rect x="496.56" y="659.75" width="3.17" height="7.75" fill="#256ca6"/>
<rect x="499.68" y="628.4" width="3.17" height="39.1" fill="#e87f22"/>
<rect x="502.8" y="657.51" width="3.17" height="9.99" fill="#6a3f98"/>
<rect x="505.92" y="664.74" width="3.17" height="2.76" fill="#8a5a4d"/>
<rect x="523.07" y="664.5" width="3.17" height="3" fill="#1f6aa5"/>
<rect x="526.18" y="662.18" width="3.17" height="5.32" fill="#c8921b"/>
<rect x="529.3" y="658.41" width="3.17" height="9.09" fill="#e4d95b"/>
<rect x="532.42" y="646.43" width="3.17" height="21.07" fill="#cf87b5"/>
<rect x="535.54" y="663.85" width="3.17" height="3.65" fill="#69addf"/>
<rect x="538.65" y="659.42" width="3.17" height="8.08" fill="#c9641e"/>
<rect x="541.77" y="659.42" width="3.17" height="8.08" fill="#000000"/>
<rect x="544.89" y="653.33" width="3.17" height="14.17" fill="#efae97"/>
<rect x="548.01" y="657.51" width="3.17" height="9.99" fill="#78bde3"/>
<rect x="551.12" y="647.89" width="3.17" height="19.61" fill="#8dbab3"/>
<rect x="554.24" y="657.51" width="3.17" height="9.99" fill="#e6934a"/>
<rect x="557.36" y="663.85" width="3.17" height="3.65" fill="#f4c391"/>
<rect x="560.48" y="663.6" width="3.17" height="3.9" fill="#bb98d2"/>
<rect x="563.6" y="661.98" width="3.17" height="5.52" fill="#6ab76f"/>
<rect x="566.71" y="652.56" width="3.17" height="14.94" fill="#256ca6"/>
<rect x="569.83" y="646.43" width="3.17" height="21.07" fill="#e87f22"/>
<rect x="572.95" y="659.42" width="3.17" height="8.08" fill="#6a3f98"/>
<rect x="576.07" y="662.51" width="3.17" height="4.99" fill="#8a5a4d"/>
<rect x="593.22" y="664.5" width="3.17" height="3" fill="#1f6aa5"/>
<rect x="596.33" y="662.75" width="3.17" height="4.75" fill="#c8921b"/>
<rect x="599.45" y="659.5" width="3.17" height="8" fill="#e4d95b"/>
<rect x="602.57" y="639.81" width="3.17" height="27.69" fill="#cf87b5"/>
<rect x="605.69" y="664.17" width="3.17" height="3.33" fill="#69addf"/>
<rect x="608.8" y="661.61" width="3.17" height="5.89" fill="#c9641e"/>
<rect x="611.92" y="661.61" width="3.17" height="5.89" fill="#000000"/>
<rect x="615.04" y="651.1" width="3.17" height="16.4" fill="#efae97"/>
<rect x="618.16" y="655.32" width="3.17" height="12.18" fill="#78bde3"/>
<rect x="621.28" y="652.19" width="3.17" height="15.31" fill="#8dbab3"/>
<rect x="624.39" y="647.57" width="3.17" height="19.93" fill="#e6934a"/>
<rect x="627.51" y="663.85" width="3.17" height="3.65" fill="#f4c391"/>
<rect x="630.63" y="661.61" width="3.17" height="5.89" fill="#bb98d2"/>
<rect x="633.75" y="652.76" width="3.17" height="14.74" fill="#6ab76f"/>
<rect x="636.86" y="654.43" width="3.17" height="13.07" fill="#256ca6"/>
<rect x="639.98" y="648.42" width="3.17" height="19.08" fill="#e87f22"/>
<rect x="643.1" y="661.61" width="3.17" height="5.89" fill="#6a3f98"/>
<rect x="646.22" y="663.28" width="3.17" height="4.22" fill="#8a5a4d"/>
<rect x="663.37" y="666.08" width="3.17" height="1.42" fill="#1f6aa5"/>
<rect x="666.48" y="663.85" width="3.17" height="3.65" fill="#c8921b"/>
<rect x="669.6" y="665.88" width="3.17" height="1.62" fill="#e4d95b"/>
<rect x="672.72" y="644.56" width="3.17" height="22.94" fill="#cf87b5"/>
<rect x="675.84" y="665.88" width="3.17" height="1.62" fill="#69addf"/>
<rect x="678.95" y="665.63" width="3.17" height="1.87" fill="#c9641e"/>
<rect x="682.07" y="665.63" width="3.17" height="1.87" fill="#000000"/>
<rect x="685.19" y="655.64" width="3.17" height="11.86" fill="#efae97"/>
<rect x="688.31" y="661.61" width="3.17" height="5.89" fill="#78bde3"/>
<rect x="691.42" y="649.43" width="3.17" height="18.07" fill="#8dbab3"/>
<rect x="694.54" y="659.5" width="3.17" height="8" fill="#e6934a"/>
<rect x="697.66" y="665.88" width="3.17" height="1.62" fill="#f4c391"/>
<rect x="700.78" y="664.74" width="3.17" height="2.76" fill="#bb98d2"/>
<rect x="703.9" y="665.88" width="3.17" height="1.62" fill="#6ab76f"/>
<rect x="707.01" y="659.5" width="3.17" height="8" fill="#256ca6"/>
<rect x="710.13" y="661.41" width="3.17" height="6.09" fill="#e87f22"/>
<rect x="713.25" y="665.47" width="3.17" height="2.03" fill="#6a3f98"/>
<rect x="716.37" y="666.08" width="3.17" height="1.42" fill="#8a5a4d"/>
<rect x="25" y="584.3" width="701.5" height="83.2" fill="none" stroke="#aaa39e" stroke-width="1.3"/>
<path d="M25 667.6H726.5" stroke="#6a625d" stroke-width="0.8"/>
<path d="M23.5 667.5H25" stroke="#333" stroke-width="0.6"/>
<text class="b" x="22.6" y="669.34" font-size="5.1" text-anchor="end">0.00</text>
<path d="M23.5 647.2H25" stroke="#333" stroke-width="0.6"/>
<text class="b" x="22.6" y="649.04" font-size="5.1" text-anchor="end">0.05</text>
<path d="M23.5 626.9H25" stroke="#333" stroke-width="0.6"/>
<text class="b" x="22.6" y="628.74" font-size="5.1" text-anchor="end">0.10</text>
<path d="M23.5 606.6H25" stroke="#333" stroke-width="0.6"/>
<text class="b" x="22.6" y="608.44" font-size="5.1" text-anchor="end">0.15</text>
<path d="M23.5 586.3H25" stroke="#333" stroke-width="0.6"/>
<text class="b" x="22.6" y="588.14" font-size="5.1" text-anchor="end">0.20</text>
<text transform="translate(8.5 625.9) rotate(-90)" font-size="6.9" text-anchor="middle">JSD</text>
<text x="375.75" y="581.6" font-size="10" text-anchor="middle">seqFISH+</text>
<path d="M60.08 667.5V668.8" stroke="#333" stroke-width="0.6"/>
<text class="b" x="60.08" y="674.2" font-size="6.7" text-anchor="middle">Ependymal</text>
<path d="M130.23 667.5V668.8" stroke="#333" stroke-width="0.6"/>
<text class="b" x="130.23" y="674.2" font-size="6.7" text-anchor="middle">Neuroblast</text>
<path d="M200.38 667.5V668.8" stroke="#333" stroke-width="0.6"/>
<text class="b" x="200.38" y="674.2" font-size="6.7" text-anchor="middle">Neural Stem</text>
<path d="M270.53 667.5V668.8" stroke="#333" stroke-width="0.6"/>
<text class="b" x="270.53" y="674.2" font-size="6.7" text-anchor="middle">Choroid Plexus</text>
<path d="M340.68 667.5V668.8" stroke="#333" stroke-width="0.6"/>
<text class="b" x="340.68" y="674.2" font-size="6.7" text-anchor="middle">Excitatory neuron</text>
<path d="M410.83 667.5V668.8" stroke="#333" stroke-width="0.6"/>
<text class="b" x="410.83" y="674.2" font-size="6.7" text-anchor="middle">Interneuron</text>
<path d="M480.98 667.5V668.8" stroke="#333" stroke-width="0.6"/>
<text class="b" x="480.98" y="674.2" font-size="6.7" text-anchor="middle">Microglia</text>
<path d="M551.12 667.5V668.8" stroke="#333" stroke-width="0.6"/>
<text class="b" x="551.12" y="674.2" font-size="6.7" text-anchor="middle">Astrocyte</text>
<path d="M621.28 667.5V668.8" stroke="#333" stroke-width="0.6"/>
<text class="b" x="621.28" y="674.2" font-size="6.7" text-anchor="middle">Endothelial</text>
<path d="M691.43 667.5V668.8" stroke="#333" stroke-width="0.6"/>
<text class="b" x="691.43" y="674.2" font-size="6.7" text-anchor="middle">Oligodendrocyte</text>
<text x="9" y="575" font-size="11.2" font-weight="bold" font-family="Liberation Sans, Arial, sans-serif">H</text>
</g>
<g>
<rect x="33.94" y="787.01" width="5.27" height="4.39" fill="#1f6aa5"/>
<rect x="39.15" y="761.22" width="5.27" height="30.18" fill="#c8921b"/>
<rect x="44.37" y="782.21" width="5.27" height="9.19" fill="#e4d95b"/>
<rect x="49.58" y="767.66" width="5.27" height="23.74" fill="#cf87b5"/>
<rect x="54.8" y="787.28" width="5.27" height="4.12" fill="#69addf"/>
<rect x="60.01" y="788.66" width="5.27" height="2.74" fill="#c9641e"/>
<rect x="65.23" y="788.38" width="5.27" height="3.02" fill="#000000"/>
<rect x="70.44" y="776.58" width="5.27" height="14.82" fill="#efae97"/>
<rect x="75.66" y="782.21" width="5.27" height="9.19" fill="#78bde3"/>
<rect x="80.88" y="777.68" width="5.27" height="13.72" fill="#8dbab3"/>
<rect x="86.09" y="779.05" width="5.27" height="12.35" fill="#e6934a"/>
<rect x="91.31" y="787.97" width="5.27" height="3.43" fill="#f4c391"/>
<rect x="96.52" y="770.82" width="5.27" height="20.58" fill="#bb98d2"/>
<rect x="101.74" y="786.19" width="5.27" height="5.21" fill="#6ab76f"/>
<rect x="106.95" y="763" width="5.27" height="28.4" fill="#256ca6"/>
<rect x="112.17" y="768.08" width="5.27" height="23.32" fill="#e87f22"/>
<rect x="117.38" y="787.56" width="5.27" height="3.84" fill="#6a3f98"/>
<rect x="122.6" y="789.34" width="5.27" height="2.06" fill="#8a5a4d"/>
<path d="M36.54 787.35V786.67M41.76 762.59V759.84M46.97 783.24V781.18M52.19 769.04V766.29M57.41 787.63V786.94M62.62 789V788.31M67.84 788.72V788.04M73.05 777.27V775.9M78.27 783.92V780.49M83.48 779.05V776.31M88.7 780.42V777.68M93.91 788.66V787.28M99.13 772.19V769.45M104.34 786.87V785.5M109.56 764.71V761.28M114.78 769.79V766.36M119.99 787.9V787.22M125.21 789.68V789" stroke="#222" stroke-width="0.8" fill="none" opacity="1"/>
<rect x="151.28" y="787.01" width="5.27" height="4.39" fill="#1f6aa5"/>
<rect x="156.5" y="761.63" width="5.27" height="29.77" fill="#c8921b"/>
<rect x="161.72" y="786.87" width="5.27" height="4.53" fill="#e4d95b"/>
<rect x="166.93" y="768.08" width="5.27" height="23.32" fill="#cf87b5"/>
<rect x="172.15" y="787.56" width="5.27" height="3.84" fill="#69addf"/>
<rect x="177.36" y="788.24" width="5.27" height="3.16" fill="#c9641e"/>
<rect x="182.58" y="787.01" width="5.27" height="4.39" fill="#000000"/>
<rect x="187.79" y="763.96" width="5.27" height="27.44" fill="#efae97"/>
<rect x="193.01" y="782.48" width="5.27" height="8.92" fill="#78bde3"/>
<rect x="198.22" y="771.51" width="5.27" height="19.89" fill="#8dbab3"/>
<rect x="203.44" y="777.95" width="5.27" height="13.45" fill="#e6934a"/>
<rect x="208.66" y="784.27" width="5.27" height="7.13" fill="#f4c391"/>
<rect x="213.87" y="769.72" width="5.27" height="21.68" fill="#bb98d2"/>
<rect x="219.09" y="788.66" width="5.27" height="2.74" fill="#6ab76f"/>
<rect x="224.3" y="781.52" width="5.27" height="9.88" fill="#256ca6"/>
<rect x="229.52" y="780.7" width="5.27" height="10.7" fill="#e87f22"/>
<rect x="234.73" y="786.32" width="5.27" height="5.08" fill="#6a3f98"/>
<rect x="239.95" y="789.07" width="5.27" height="2.33" fill="#8a5a4d"/>
<path d="M153.89 787.35V786.67M159.11 761.97V761.28M164.32 787.56V786.19M169.54 769.45V766.7M174.75 787.9V787.22M179.97 788.59V787.9M185.19 787.35V786.67M190.4 765.33V762.59M195.62 783.51V781.45M200.83 772.19V770.82M206.05 778.3V777.61M211.26 785.98V782.55M216.48 771.78V767.66M221.69 789.34V787.97M226.91 781.86V781.18M232.13 781.38V780.01M237.34 787.01V785.64M242.56 789.41V788.72" stroke="#222" stroke-width="0.8" fill="none" opacity="1"/>
<rect x="268.63" y="780.7" width="5.27" height="10.7" fill="#1f6aa5"/>
<rect x="273.85" y="740.22" width="5.27" height="51.18" fill="#c8921b"/>
<rect x="279.07" y="773.15" width="5.27" height="18.25" fill="#e4d95b"/>
<rect x="284.28" y="742.42" width="5.27" height="48.98" fill="#cf87b5"/>
<rect x="289.5" y="778.78" width="5.27" height="12.62" fill="#69addf"/>
<rect x="294.71" y="778.37" width="5.27" height="13.03" fill="#c9641e"/>
<rect x="299.93" y="770.82" width="5.27" height="20.58" fill="#000000"/>
<rect x="305.14" y="744.48" width="5.27" height="46.92" fill="#efae97"/>
<rect x="310.36" y="720.47" width="5.27" height="70.93" fill="#78bde3"/>
<rect x="315.57" y="759.84" width="5.27" height="31.56" fill="#8dbab3"/>
<rect x="320.79" y="760.12" width="5.27" height="31.28" fill="#e6934a"/>
<rect x="326.01" y="779.74" width="5.27" height="11.66" fill="#f4c391"/>
<rect x="331.22" y="765.61" width="5.27" height="25.79" fill="#bb98d2"/>
<rect x="336.44" y="768.35" width="5.27" height="23.05" fill="#6ab76f"/>
<rect x="341.65" y="752.98" width="5.27" height="38.42" fill="#256ca6"/>
<rect x="346.87" y="761.22" width="5.27" height="30.18" fill="#e87f22"/>
<rect x="352.08" y="777.95" width="5.27" height="13.45" fill="#6a3f98"/>
<rect x="357.3" y="779.46" width="5.27" height="11.94" fill="#8a5a4d"/>
<path d="M271.24 781.04V780.36M276.46 741.6V738.85M281.67 774.52V771.78M286.89 744.13V740.7M292.11 779.12V778.43M297.32 779.05V777.68M302.54 771.85V769.79M307.75 746.19V742.76M312.97 722.53V718.41M318.18 760.53V759.16M323.4 761.49V758.75M328.61 780.77V778.71M333.83 766.64V764.58M339.04 769.04V767.66M344.26 754.01V751.95M349.48 762.25V760.19M354.69 778.64V777.27M359.91 780.15V778.78" stroke="#222" stroke-width="0.8" fill="none" opacity="1"/>
<rect x="385.98" y="781.38" width="5.27" height="10.02" fill="#1f6aa5"/>
<rect x="391.2" y="761.22" width="5.27" height="30.18" fill="#c8921b"/>
<rect x="396.42" y="773.56" width="5.27" height="17.84" fill="#e4d95b"/>
<rect x="401.63" y="765.33" width="5.27" height="26.07" fill="#cf87b5"/>
<rect x="406.85" y="779.46" width="5.27" height="11.94" fill="#69addf"/>
<rect x="412.06" y="777.68" width="5.27" height="13.72" fill="#c9641e"/>
<rect x="417.28" y="773.98" width="5.27" height="17.42" fill="#000000"/>
<rect x="422.49" y="764.65" width="5.27" height="26.75" fill="#efae97"/>
<rect x="427.71" y="766.43" width="5.27" height="24.97" fill="#78bde3"/>
<rect x="432.92" y="763.55" width="5.27" height="27.85" fill="#8dbab3"/>
<rect x="438.14" y="773.29" width="5.27" height="18.11" fill="#e6934a"/>
<rect x="443.36" y="780.15" width="5.27" height="11.25" fill="#f4c391"/>
<rect x="448.57" y="766.02" width="5.27" height="25.38" fill="#bb98d2"/>
<rect x="453.79" y="763.55" width="5.27" height="27.85" fill="#6ab76f"/>
<rect x="459" y="764.65" width="5.27" height="26.75" fill="#256ca6"/>
<rect x="464.22" y="766.02" width="5.27" height="25.38" fill="#e87f22"/>
<rect x="469.43" y="779.05" width="5.27" height="12.35" fill="#6a3f98"/>
<rect x="474.65" y="779.33" width="5.27" height="12.07" fill="#8a5a4d"/>
<path d="M388.59 781.73V781.04M393.81 761.9V760.53M399.02 774.59V772.53M404.24 766.7V763.96M409.45 780.15V778.78M414.67 778.37V776.99M419.89 774.66V773.29M425.1 765.67V763.62M430.32 767.8V765.06M435.53 764.58V762.52M440.75 773.98V772.6M445.96 780.84V779.46M451.18 767.39V764.65M456.39 764.58V762.52M461.61 765.67V763.62M466.83 767.05V764.99M472.04 779.39V778.71M477.26 779.67V778.98" stroke="#222" stroke-width="0.8" fill="none" opacity="1"/>
<rect x="503.33" y="785.23" width="5.27" height="6.17" fill="#1f6aa5"/>
<rect x="508.55" y="769.45" width="5.27" height="21.95" fill="#c8921b"/>
<rect x="513.77" y="783.85" width="5.27" height="7.55" fill="#e4d95b"/>
<rect x="518.98" y="777.95" width="5.27" height="13.45" fill="#cf87b5"/>
<rect x="524.2" y="786.32" width="5.27" height="5.08" fill="#69addf"/>
<rect x="529.41" y="785.23" width="5.27" height="6.17" fill="#c9641e"/>
<rect x="534.63" y="783.44" width="5.27" height="7.96" fill="#000000"/>
<rect x="539.84" y="774.94" width="5.27" height="16.46" fill="#efae97"/>
<rect x="545.06" y="771.23" width="5.27" height="20.17" fill="#78bde3"/>
<rect x="550.27" y="778.78" width="5.27" height="12.62" fill="#8dbab3"/>
<rect x="555.49" y="782.48" width="5.27" height="8.92" fill="#e6934a"/>
<rect x="560.71" y="786.19" width="5.27" height="5.21" fill="#f4c391"/>
<rect x="565.92" y="770.41" width="5.27" height="20.99" fill="#bb98d2"/>
<rect x="571.14" y="784.81" width="5.27" height="6.59" fill="#6ab76f"/>
<rect x="576.35" y="772.19" width="5.27" height="19.21" fill="#256ca6"/>
<rect x="581.57" y="779.05" width="5.27" height="12.35" fill="#e87f22"/>
<rect x="586.78" y="785.64" width="5.27" height="5.76" fill="#6a3f98"/>
<rect x="592" y="786.6" width="5.27" height="4.8" fill="#8a5a4d"/>
<path d="M505.94 785.57V784.88M511.16 770.13V768.76M516.37 784.88V782.82M521.59 778.98V776.93M526.8 786.67V785.98M532.02 785.91V784.54M537.24 784.13V782.76M542.45 775.97V773.91M547.67 772.6V769.86M552.88 779.46V778.09M558.1 783.17V781.8M563.31 786.87V785.5M568.53 771.44V769.38M573.74 785.5V784.13M578.96 772.88V771.51M584.18 779.74V778.37M589.39 785.98V785.29M594.61 786.94V786.25" stroke="#222" stroke-width="0.8" fill="none" opacity="1"/>
<rect x="620.68" y="786.87" width="5.27" height="4.53" fill="#1f6aa5"/>
<rect x="625.9" y="767.39" width="5.27" height="24.01" fill="#c8921b"/>
<rect x="631.12" y="785.5" width="5.27" height="5.9" fill="#e4d95b"/>
<rect x="636.33" y="772.19" width="5.27" height="19.21" fill="#cf87b5"/>
<rect x="641.55" y="787.28" width="5.27" height="4.12" fill="#69addf"/>
<rect x="646.76" y="787.97" width="5.27" height="3.43" fill="#c9641e"/>
<rect x="651.98" y="786.19" width="5.27" height="5.21" fill="#000000"/>
<rect x="657.19" y="772.19" width="5.27" height="19.21" fill="#efae97"/>
<rect x="662.41" y="773.15" width="5.27" height="18.25" fill="#78bde3"/>
<rect x="667.62" y="777.68" width="5.27" height="13.72" fill="#8dbab3"/>
<rect x="672.84" y="782.48" width="5.27" height="8.92" fill="#e6934a"/>
<rect x="678.06" y="783.44" width="5.27" height="7.96" fill="#f4c391"/>
<rect x="683.27" y="776.99" width="5.27" height="14.41" fill="#bb98d2"/>
<rect x="688.49" y="785.5" width="5.27" height="5.9" fill="#6ab76f"/>
<rect x="693.7" y="773.15" width="5.27" height="18.25" fill="#256ca6"/>
<rect x="698.92" y="779.05" width="5.27" height="12.35" fill="#e87f22"/>
<rect x="704.13" y="784.27" width="5.27" height="7.13" fill="#6a3f98"/>
<rect x="709.35" y="788.66" width="5.27" height="2.74" fill="#8a5a4d"/>
<path d="M623.29 787.22V786.53M628.51 768.08V766.7M633.72 786.53V784.47M638.94 773.22V771.16M644.15 787.63V786.94M649.37 788.31V787.63M654.59 786.87V785.5M659.8 773.22V771.16M665.02 774.18V772.12M670.23 778.37V776.99M675.45 783.51V781.45M680.66 785.5V781.38M685.88 778.02V775.96M691.09 785.84V785.16M696.31 774.18V772.12M701.53 779.74V778.37M706.74 784.95V783.58M711.96 789V788.31" stroke="#222" stroke-width="0.8" fill="none" opacity="1"/>
<rect x="22.2" y="705.4" width="704.1" height="86" fill="none" stroke="#7d746e" stroke-width="0.8"/>
<path d="M20.7 791.4H22.2" stroke="#333" stroke-width="0.6"/>
<text class="b" x="20.9" y="793.24" font-size="5.1" text-anchor="end">0.00</text>
<path d="M20.7 757.1H22.2" stroke="#333" stroke-width="0.6"/>
<text class="b" x="20.9" y="758.94" font-size="5.1" text-anchor="end">0.05</text>
<path d="M20.7 722.8H22.2" stroke="#333" stroke-width="0.6"/>
<text class="b" x="20.9" y="724.64" font-size="5.1" text-anchor="end">0.10</text>
<text transform="translate(7 748.4) rotate(-90)" font-size="6.9" text-anchor="middle">JSD</text>
<text x="374.25" y="702.9" font-size="8.6" text-anchor="middle">MERFISH</text>
<text class="b" x="80.87" y="798.1" font-size="6.5" text-anchor="middle">OD Mature</text>
<text class="b" x="198.22" y="798.1" font-size="6.5" text-anchor="middle">OD Immature</text>
<text class="b" x="315.57" y="798.1" font-size="6.5" text-anchor="middle">Inhibitory</text>
<text class="b" x="432.92" y="798.1" font-size="6.5" text-anchor="middle">Excitatory</text>
<text class="b" x="550.27" y="798.1" font-size="6.5" text-anchor="middle">Astrocyte</text>
<text class="b" x="667.62" y="798.1" font-size="6.5" text-anchor="middle">Endothelial</text>
<text x="9" y="701.2" font-size="11.2" font-weight="bold" font-family="Liberation Sans, Arial, sans-serif">I</text>
</g>
<rect x="151.4" y="377.8" width="430.3" height="16.8" fill="#fff" stroke="#dcdcdc" stroke-width="0.6" rx="0.8"/>
<rect x="153" y="380.45" width="10" height="3.1" fill="#1f6aa5" stroke="#3c3c3c" stroke-width="0.35"/>
<text class="b" x="167" y="383.65" font-size="5">STdGCN</text>
<rect x="153" y="388.15" width="10" height="3.1" fill="#c8921b" stroke="#3c3c3c" stroke-width="0.35"/>
<text class="b" x="167" y="391.35" font-size="5">cell2location</text>
<rect x="208.2" y="380.45" width="10" height="3.1" fill="#e4d95b" stroke="#3c3c3c" stroke-width="0.35"/>
<text class="b" x="222.7" y="383.65" font-size="5">CellDART</text>
<rect x="208.2" y="388.15" width="10" height="3.1" fill="#cf87b5" stroke="#3c3c3c" stroke-width="0.35"/>
<text class="b" x="222.7" y="391.35" font-size="5">DestVI</text>
<rect x="255.3" y="380.45" width="10" height="3.1" fill="#69addf" stroke="#3c3c3c" stroke-width="0.35"/>
<text class="b" x="269.6" y="383.65" font-size="5">DSTG</text>
<rect x="255.3" y="388.15" width="10" height="3.1" fill="#c9641e" stroke="#3c3c3c" stroke-width="0.35"/>
<text class="b" x="269.6" y="391.35" font-size="5">RCTD</text>
<rect x="293.1" y="380.45" width="10" height="3.1" fill="#000000" stroke="#3c3c3c" stroke-width="0.35"/>
<text class="b" x="307.4" y="383.65" font-size="5">spatialDWLS</text>
<rect x="293.1" y="388.15" width="10" height="3.1" fill="#efae97" stroke="#3c3c3c" stroke-width="0.35"/>
<text class="b" x="307.4" y="391.35" font-size="5">SPOTlight</text>
<rect x="348.1" y="380.45" width="10" height="3.1" fill="#78bde3" stroke="#3c3c3c" stroke-width="0.35"/>
<text class="b" x="362.7" y="383.65" font-size="5">stereoscope</text>
<rect x="348.1" y="388.15" width="10" height="3.1" fill="#8dbab3" stroke="#3c3c3c" stroke-width="0.35"/>
<text class="b" x="362.7" y="391.35" font-size="5">STRIDE</text>
<rect x="402.5" y="380.45" width="10" height="3.1" fill="#e6934a" stroke="#3c3c3c" stroke-width="0.35"/>
<text class="b" x="417" y="383.65" font-size="5">Tangram</text>
<rect x="402.5" y="388.15" width="10" height="3.1" fill="#f4c391" stroke="#3c3c3c" stroke-width="0.35"/>
<text class="b" x="417" y="391.35" font-size="5">Adroit</text>
<rect x="447.9" y="380.45" width="10" height="3.1" fill="#bb98d2" stroke="#3c3c3c" stroke-width="0.35"/>
<text class="b" x="462" y="383.65" font-size="5">BayesPrism</text>
<rect x="447.9" y="388.15" width="10" height="3.1" fill="#6ab76f" stroke="#3c3c3c" stroke-width="0.35"/>
<text class="b" x="462" y="391.35" font-size="5">SpatialDecon</text>
<rect x="505.2" y="380.45" width="10" height="3.1" fill="#256ca6" stroke="#3c3c3c" stroke-width="0.35"/>
<text class="b" x="519.3" y="383.65" font-size="5">SD2</text>
<rect x="505.2" y="388.15" width="10" height="3.1" fill="#e87f22" stroke="#3c3c3c" stroke-width="0.35"/>
<text class="b" x="519.3" y="391.35" font-size="5">NMFreg</text>
<rect x="547.7" y="380.45" width="10" height="3.1" fill="#6a3f98" stroke="#3c3c3c" stroke-width="0.35"/>
<text class="b" x="562" y="383.65" font-size="5">CARD</text>
<rect x="547.7" y="388.15" width="10" height="3.1" fill="#8a5a4d" stroke="#3c3c3c" stroke-width="0.35"/>
<text class="b" x="562" y="391.35" font-size="5">SONAR</text>
</svg>
</body></html>
